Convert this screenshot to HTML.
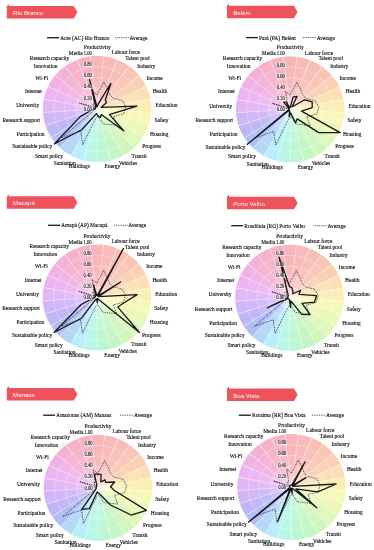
<!DOCTYPE html>
<html lang="en"><head><meta charset="utf-8"><title>Smart city radar charts</title>
<style>html,body{margin:0;padding:0;background:#fff}svg{display:block}.cat{font-family:"Liberation Serif",serif;font-size:54.5px;fill:#111;stroke:#111;stroke-width:1.3px}.tick{font-family:"Liberation Serif",serif;font-size:46.5px;fill:#222;stroke:#222;stroke-width:1.4px}.ban{font-family:"Liberation Sans",sans-serif;font-size:61px;fill:#fff}</style></head><body>
<svg width="374" height="550" viewBox="0 0 374 550">
<defs><filter id="soft" x="-5%" y="-5%" width="110%" height="110%"><feGaussianBlur stdDeviation="0.3"/></filter>
</defs>
<rect width="374" height="550" fill="#fff"/>
<g><!-- Rio Branco -->
<path d="M6.8 6.2L8.8 4.2V6.2Z" fill="#c8323f"/>
<path d="M6.8 6H73.8L77.4 12.25L73.8 18.5H6.8Z" fill="#ee525b"/>
<text class="ban" transform="translate(13.1 15) scale(.1)">Rio Branco</text>
<g filter="url(#soft)">
<g transform="translate(97.15 109.05) scale(1 0.9770)">
<path d="M0 0L-6.81 -53.92A54.35 54.35 0 0 1 6.81 -53.92Z" fill="#f8b5ba"/>
<path d="M0 0L-5.45 -43.14A43.48 43.48 0 0 1 5.45 -43.14Z" fill="#f8b6bb"/>
<path d="M0 0L-4.09 -32.35A32.61 32.61 0 0 1 4.09 -32.35Z" fill="#f8b9be"/>
<path d="M0 0L-2.72 -21.57A21.74 21.74 0 0 1 2.72 -21.57Z" fill="#f9c1c5"/>
<path d="M0 0L-1.36 -10.78A10.87 10.87 0 0 1 1.36 -10.78Z" fill="#fbd1d4"/>
<path d="M0 0L6.81 -53.92A54.35 54.35 0 0 1 20.01 -50.53Z" fill="#f9bab9"/>
<path d="M0 0L5.45 -43.14A43.48 43.48 0 0 1 16.01 -40.43Z" fill="#f9bbba"/>
<path d="M0 0L4.09 -32.35A32.61 32.61 0 0 1 12 -30.32Z" fill="#f9bebd"/>
<path d="M0 0L2.72 -21.57A21.74 21.74 0 0 1 8 -20.21Z" fill="#fac5c4"/>
<path d="M0 0L1.36 -10.78A10.87 10.87 0 0 1 4 -10.11Z" fill="#fbd4d4"/>
<path d="M0 0L20.01 -50.53A54.35 54.35 0 0 1 31.95 -43.97Z" fill="#f9bfb7"/>
<path d="M0 0L16.01 -40.43A43.48 43.48 0 0 1 25.56 -35.18Z" fill="#f9c0b8"/>
<path d="M0 0L12 -30.32A32.61 32.61 0 0 1 19.17 -26.38Z" fill="#f9c3bb"/>
<path d="M0 0L8 -20.21A21.74 21.74 0 0 1 12.78 -17.59Z" fill="#fac9c3"/>
<path d="M0 0L4 -10.11A10.87 10.87 0 0 1 6.39 -8.79Z" fill="#fbd7d2"/>
<path d="M0 0L31.95 -43.97A54.35 54.35 0 0 1 41.88 -34.64Z" fill="#f9c6b5"/>
<path d="M0 0L25.56 -35.18A43.48 43.48 0 0 1 33.5 -27.72Z" fill="#f9c7b6"/>
<path d="M0 0L19.17 -26.38A32.61 32.61 0 0 1 25.13 -20.79Z" fill="#f9c9b9"/>
<path d="M0 0L12.78 -17.59A21.74 21.74 0 0 1 16.75 -13.86Z" fill="#facfc1"/>
<path d="M0 0L6.39 -8.79A10.87 10.87 0 0 1 8.38 -6.93Z" fill="#fbdcd1"/>
<path d="M0 0L41.88 -34.64A54.35 54.35 0 0 1 49.18 -23.14Z" fill="#f9d0b4"/>
<path d="M0 0L33.5 -27.72A43.48 43.48 0 0 1 39.34 -18.51Z" fill="#f9d1b6"/>
<path d="M0 0L25.13 -20.79A32.61 32.61 0 0 1 29.51 -13.88Z" fill="#f9d3b8"/>
<path d="M0 0L16.75 -13.86A21.74 21.74 0 0 1 19.67 -9.26Z" fill="#fad8c0"/>
<path d="M0 0L8.38 -6.93A10.87 10.87 0 0 1 9.84 -4.63Z" fill="#fbe2d0"/>
<path d="M0 0L49.18 -23.14A54.35 54.35 0 0 1 53.39 -10.18Z" fill="#fae0b4"/>
<path d="M0 0L39.34 -18.51A43.48 43.48 0 0 1 42.71 -8.15Z" fill="#fae1b6"/>
<path d="M0 0L29.51 -13.88A32.61 32.61 0 0 1 32.03 -6.11Z" fill="#fae2b8"/>
<path d="M0 0L19.67 -9.26A21.74 21.74 0 0 1 21.35 -4.07Z" fill="#fbe5c0"/>
<path d="M0 0L9.84 -4.63A10.87 10.87 0 0 1 10.68 -2.04Z" fill="#fcecd0"/>
<path d="M0 0L53.39 -10.18A54.35 54.35 0 0 1 54.24 3.41Z" fill="#faeeb4"/>
<path d="M0 0L42.71 -8.15A43.48 43.48 0 0 1 43.39 2.73Z" fill="#faeeb6"/>
<path d="M0 0L32.03 -6.11A32.61 32.61 0 0 1 32.55 2.05Z" fill="#faefb8"/>
<path d="M0 0L21.35 -4.07A21.74 21.74 0 0 1 21.7 1.37Z" fill="#fbf1c0"/>
<path d="M0 0L10.68 -2.04A10.87 10.87 0 0 1 10.85 0.68Z" fill="#fcf4d0"/>
<path d="M0 0L54.24 3.41A54.35 54.35 0 0 1 51.69 16.8Z" fill="#f7f8b6"/>
<path d="M0 0L43.39 2.73A43.48 43.48 0 0 1 41.35 13.44Z" fill="#f7f8b7"/>
<path d="M0 0L32.55 2.05A32.61 32.61 0 0 1 31.01 10.08Z" fill="#f7f8ba"/>
<path d="M0 0L21.7 1.37A21.74 21.74 0 0 1 20.68 6.72Z" fill="#f8f9c2"/>
<path d="M0 0L10.85 0.68A10.87 10.87 0 0 1 10.34 3.36Z" fill="#fafbd2"/>
<path d="M0 0L51.69 16.8A54.35 54.35 0 0 1 45.89 29.12Z" fill="#ecf8b8"/>
<path d="M0 0L41.35 13.44A43.48 43.48 0 0 1 36.71 23.3Z" fill="#ecf8b9"/>
<path d="M0 0L31.01 10.08A32.61 32.61 0 0 1 27.53 17.47Z" fill="#edf8bc"/>
<path d="M0 0L20.68 6.72A21.74 21.74 0 0 1 18.36 11.65Z" fill="#eff9c3"/>
<path d="M0 0L10.34 3.36A10.87 10.87 0 0 1 9.18 5.82Z" fill="#f3fbd3"/>
<path d="M0 0L45.89 29.12A54.35 54.35 0 0 1 37.21 39.62Z" fill="#def7ba"/>
<path d="M0 0L36.71 23.3A43.48 43.48 0 0 1 29.76 31.7Z" fill="#dff7bb"/>
<path d="M0 0L27.53 17.47A32.61 32.61 0 0 1 22.32 23.77Z" fill="#e0f7be"/>
<path d="M0 0L18.36 11.65A21.74 21.74 0 0 1 14.88 15.85Z" fill="#e3f8c5"/>
<path d="M0 0L9.18 5.82A10.87 10.87 0 0 1 7.44 7.92Z" fill="#ebfad4"/>
<path d="M0 0L37.21 39.62A54.35 54.35 0 0 1 26.18 47.63Z" fill="#d0f6be"/>
<path d="M0 0L29.76 31.7A43.48 43.48 0 0 1 20.95 38.1Z" fill="#d1f6bf"/>
<path d="M0 0L22.32 23.77A32.61 32.61 0 0 1 15.71 28.58Z" fill="#d3f7c2"/>
<path d="M0 0L14.88 15.85A21.74 21.74 0 0 1 10.47 19.05Z" fill="#d8f7c8"/>
<path d="M0 0L7.44 7.92A10.87 10.87 0 0 1 5.24 9.53Z" fill="#e2f9d7"/>
<path d="M0 0L26.18 47.63A54.35 54.35 0 0 1 13.52 52.64Z" fill="#c3f6c4"/>
<path d="M0 0L20.95 38.1A43.48 43.48 0 0 1 10.81 42.11Z" fill="#c4f6c5"/>
<path d="M0 0L15.71 28.58A32.61 32.61 0 0 1 8.11 31.59Z" fill="#c7f7c8"/>
<path d="M0 0L10.47 19.05A21.74 21.74 0 0 1 5.41 21.06Z" fill="#cdf7cd"/>
<path d="M0 0L5.24 9.53A10.87 10.87 0 0 1 2.7 10.53Z" fill="#daf9da"/>
<path d="M0 0L13.52 52.64A54.35 54.35 0 0 1 0 54.35Z" fill="#bcf6d2"/>
<path d="M0 0L10.81 42.11A43.48 43.48 0 0 1 0 43.48Z" fill="#bdf6d3"/>
<path d="M0 0L8.11 31.59A32.61 32.61 0 0 1 0 32.61Z" fill="#c0f7d5"/>
<path d="M0 0L5.41 21.06A21.74 21.74 0 0 1 0 21.74Z" fill="#c7f7d9"/>
<path d="M0 0L2.7 10.53A10.87 10.87 0 0 1 0 10.87Z" fill="#d5f9e3"/>
<path d="M0 0L-0 54.35A54.35 54.35 0 0 1 -13.52 52.64Z" fill="#b9f6e6"/>
<path d="M0 0L-0 43.48A43.48 43.48 0 0 1 -10.81 42.11Z" fill="#baf6e6"/>
<path d="M0 0L-0 32.61A32.61 32.61 0 0 1 -8.11 31.59Z" fill="#bdf7e8"/>
<path d="M0 0L-0 21.74A21.74 21.74 0 0 1 -5.41 21.06Z" fill="#c4f7ea"/>
<path d="M0 0L-0 10.87A10.87 10.87 0 0 1 -2.7 10.53Z" fill="#d4f9f0"/>
<path d="M0 0L-13.52 52.64A54.35 54.35 0 0 1 -26.18 47.63Z" fill="#b7eef8"/>
<path d="M0 0L-10.81 42.11A43.48 43.48 0 0 1 -20.95 38.1Z" fill="#b8eef8"/>
<path d="M0 0L-8.11 31.59A32.61 32.61 0 0 1 -15.71 28.58Z" fill="#bbeff8"/>
<path d="M0 0L-5.41 21.06A21.74 21.74 0 0 1 -10.47 19.05Z" fill="#c3f1f9"/>
<path d="M0 0L-2.7 10.53A10.87 10.87 0 0 1 -5.24 9.53Z" fill="#d2f4fb"/>
<path d="M0 0L-26.18 47.63A54.35 54.35 0 0 1 -37.21 39.62Z" fill="#b4d7f8"/>
<path d="M0 0L-20.95 38.1A43.48 43.48 0 0 1 -29.76 31.7Z" fill="#b6d8f8"/>
<path d="M0 0L-15.71 28.58A32.61 32.61 0 0 1 -22.32 23.77Z" fill="#b8d9f8"/>
<path d="M0 0L-10.47 19.05A21.74 21.74 0 0 1 -14.88 15.85Z" fill="#c0ddf9"/>
<path d="M0 0L-5.24 9.53A10.87 10.87 0 0 1 -7.44 7.92Z" fill="#d0e6fb"/>
<path d="M0 0L-37.21 39.62A54.35 54.35 0 0 1 -45.89 29.12Z" fill="#b0bef7"/>
<path d="M0 0L-29.76 31.7A43.48 43.48 0 0 1 -36.71 23.3Z" fill="#b2bff7"/>
<path d="M0 0L-22.32 23.77A32.61 32.61 0 0 1 -27.53 17.47Z" fill="#b5c2f7"/>
<path d="M0 0L-14.88 15.85A21.74 21.74 0 0 1 -18.36 11.65Z" fill="#bdc8f8"/>
<path d="M0 0L-7.44 7.92A10.87 10.87 0 0 1 -9.18 5.82Z" fill="#ced7fa"/>
<path d="M0 0L-45.89 29.12A54.35 54.35 0 0 1 -51.69 16.8Z" fill="#bfb6f7"/>
<path d="M0 0L-36.71 23.3A43.48 43.48 0 0 1 -41.35 13.44Z" fill="#c0b7f7"/>
<path d="M0 0L-27.53 17.47A32.61 32.61 0 0 1 -31.01 10.08Z" fill="#c3baf7"/>
<path d="M0 0L-18.36 11.65A21.74 21.74 0 0 1 -20.68 6.72Z" fill="#c9c2f8"/>
<path d="M0 0L-9.18 5.82A10.87 10.87 0 0 1 -10.34 3.36Z" fill="#d7d2fa"/>
<path d="M0 0L-51.69 16.8A54.35 54.35 0 0 1 -54.24 3.41Z" fill="#d0b6f7"/>
<path d="M0 0L-41.35 13.44A43.48 43.48 0 0 1 -43.39 2.73Z" fill="#d1b7f7"/>
<path d="M0 0L-31.01 10.08A32.61 32.61 0 0 1 -32.55 2.05Z" fill="#d3baf7"/>
<path d="M0 0L-20.68 6.72A21.74 21.74 0 0 1 -21.7 1.37Z" fill="#d8c2f8"/>
<path d="M0 0L-10.34 3.36A10.87 10.87 0 0 1 -10.85 0.68Z" fill="#e2d2fa"/>
<path d="M0 0L-54.24 3.41A54.35 54.35 0 0 1 -53.39 -10.18Z" fill="#e1b6f6"/>
<path d="M0 0L-43.39 2.73A43.48 43.48 0 0 1 -42.71 -8.15Z" fill="#e2b7f6"/>
<path d="M0 0L-32.55 2.05A32.61 32.61 0 0 1 -32.03 -6.11Z" fill="#e3baf7"/>
<path d="M0 0L-21.7 1.37A21.74 21.74 0 0 1 -21.35 -4.07Z" fill="#e6c2f7"/>
<path d="M0 0L-10.85 0.68A10.87 10.87 0 0 1 -10.68 -2.04Z" fill="#ecd2f9"/>
<path d="M0 0L-53.39 -10.18A54.35 54.35 0 0 1 -49.18 -23.14Z" fill="#ecb4f2"/>
<path d="M0 0L-42.71 -8.15A43.48 43.48 0 0 1 -39.34 -18.51Z" fill="#ecb6f2"/>
<path d="M0 0L-32.03 -6.11A32.61 32.61 0 0 1 -29.51 -13.88Z" fill="#edb8f3"/>
<path d="M0 0L-21.35 -4.07A21.74 21.74 0 0 1 -19.67 -9.26Z" fill="#efc0f4"/>
<path d="M0 0L-10.68 -2.04A10.87 10.87 0 0 1 -9.84 -4.63Z" fill="#f3d0f7"/>
<path d="M0 0L-49.18 -23.14A54.35 54.35 0 0 1 -41.88 -34.64Z" fill="#f0b2e4"/>
<path d="M0 0L-39.34 -18.51A43.48 43.48 0 0 1 -33.5 -27.72Z" fill="#f0b4e5"/>
<path d="M0 0L-29.51 -13.88A32.61 32.61 0 0 1 -25.13 -20.79Z" fill="#f1b7e6"/>
<path d="M0 0L-19.67 -9.26A21.74 21.74 0 0 1 -16.75 -13.86Z" fill="#f2bee8"/>
<path d="M0 0L-9.84 -4.63A10.87 10.87 0 0 1 -8.38 -6.93Z" fill="#f6cfee"/>
<path d="M0 0L-41.88 -34.64A54.35 54.35 0 0 1 -31.95 -43.97Z" fill="#f3b2d4"/>
<path d="M0 0L-33.5 -27.72A43.48 43.48 0 0 1 -25.56 -35.18Z" fill="#f3b4d5"/>
<path d="M0 0L-25.13 -20.79A32.61 32.61 0 0 1 -19.17 -26.38Z" fill="#f4b7d7"/>
<path d="M0 0L-16.75 -13.86A21.74 21.74 0 0 1 -12.78 -17.59Z" fill="#f5bedb"/>
<path d="M0 0L-8.38 -6.93A10.87 10.87 0 0 1 -6.39 -8.79Z" fill="#f8cfe4"/>
<path d="M0 0L-31.95 -43.97A54.35 54.35 0 0 1 -20.01 -50.53Z" fill="#f5b2c8"/>
<path d="M0 0L-25.56 -35.18A43.48 43.48 0 0 1 -16.01 -40.43Z" fill="#f5b4c9"/>
<path d="M0 0L-19.17 -26.38A32.61 32.61 0 0 1 -12 -30.32Z" fill="#f6b7cb"/>
<path d="M0 0L-12.78 -17.59A21.74 21.74 0 0 1 -8 -20.21Z" fill="#f7bed1"/>
<path d="M0 0L-6.39 -8.79A10.87 10.87 0 0 1 -4 -10.11Z" fill="#f9cfdd"/>
<path d="M0 0L-20.01 -50.53A54.35 54.35 0 0 1 -6.81 -53.92Z" fill="#f6b2c0"/>
<path d="M0 0L-16.01 -40.43A43.48 43.48 0 0 1 -5.45 -43.14Z" fill="#f6b4c1"/>
<path d="M0 0L-12 -30.32A32.61 32.61 0 0 1 -4.09 -32.35Z" fill="#f7b7c4"/>
<path d="M0 0L-8 -20.21A21.74 21.74 0 0 1 -2.72 -21.57Z" fill="#f7beca"/>
<path d="M0 0L-4 -10.11A10.87 10.87 0 0 1 -1.36 -10.78Z" fill="#f9cfd8"/>
<line x1="0" y1="0" x2="6.81" y2="-53.92" stroke="#fff" stroke-width="0.5" stroke-opacity="0.85"/>
<line x1="0" y1="0" x2="20.01" y2="-50.53" stroke="#fff" stroke-width="0.5" stroke-opacity="0.85"/>
<line x1="0" y1="0" x2="31.95" y2="-43.97" stroke="#fff" stroke-width="0.5" stroke-opacity="0.85"/>
<line x1="0" y1="0" x2="41.88" y2="-34.64" stroke="#fff" stroke-width="0.5" stroke-opacity="0.85"/>
<line x1="0" y1="0" x2="49.18" y2="-23.14" stroke="#fff" stroke-width="0.5" stroke-opacity="0.85"/>
<line x1="0" y1="0" x2="53.39" y2="-10.18" stroke="#fff" stroke-width="0.5" stroke-opacity="0.85"/>
<line x1="0" y1="0" x2="54.24" y2="3.41" stroke="#fff" stroke-width="0.5" stroke-opacity="0.85"/>
<line x1="0" y1="0" x2="51.69" y2="16.8" stroke="#fff" stroke-width="0.5" stroke-opacity="0.85"/>
<line x1="0" y1="0" x2="45.89" y2="29.12" stroke="#fff" stroke-width="0.5" stroke-opacity="0.85"/>
<line x1="0" y1="0" x2="37.21" y2="39.62" stroke="#fff" stroke-width="0.5" stroke-opacity="0.85"/>
<line x1="0" y1="0" x2="26.18" y2="47.63" stroke="#fff" stroke-width="0.5" stroke-opacity="0.85"/>
<line x1="0" y1="0" x2="13.52" y2="52.64" stroke="#fff" stroke-width="0.5" stroke-opacity="0.85"/>
<line x1="0" y1="0" x2="0" y2="54.35" stroke="#fff" stroke-width="0.5" stroke-opacity="0.85"/>
<line x1="0" y1="0" x2="-13.52" y2="52.64" stroke="#fff" stroke-width="0.5" stroke-opacity="0.85"/>
<line x1="0" y1="0" x2="-26.18" y2="47.63" stroke="#fff" stroke-width="0.5" stroke-opacity="0.85"/>
<line x1="0" y1="0" x2="-37.21" y2="39.62" stroke="#fff" stroke-width="0.5" stroke-opacity="0.85"/>
<line x1="0" y1="0" x2="-45.89" y2="29.12" stroke="#fff" stroke-width="0.5" stroke-opacity="0.85"/>
<line x1="0" y1="0" x2="-51.69" y2="16.8" stroke="#fff" stroke-width="0.5" stroke-opacity="0.85"/>
<line x1="0" y1="0" x2="-54.24" y2="3.41" stroke="#fff" stroke-width="0.5" stroke-opacity="0.85"/>
<line x1="0" y1="0" x2="-53.39" y2="-10.18" stroke="#fff" stroke-width="0.5" stroke-opacity="0.85"/>
<line x1="0" y1="0" x2="-49.18" y2="-23.14" stroke="#fff" stroke-width="0.5" stroke-opacity="0.85"/>
<line x1="0" y1="0" x2="-41.88" y2="-34.64" stroke="#fff" stroke-width="0.5" stroke-opacity="0.85"/>
<line x1="0" y1="0" x2="-31.95" y2="-43.97" stroke="#fff" stroke-width="0.5" stroke-opacity="0.85"/>
<line x1="0" y1="0" x2="-20.01" y2="-50.53" stroke="#fff" stroke-width="0.5" stroke-opacity="0.85"/>
<line x1="0" y1="0" x2="-6.81" y2="-53.92" stroke="#fff" stroke-width="0.5" stroke-opacity="0.85"/>
<circle r="10.87" fill="none" stroke="#fff" stroke-width="0.5" stroke-opacity="0.6"/>
<circle r="21.74" fill="none" stroke="#fff" stroke-width="0.5" stroke-opacity="0.6"/>
<circle r="32.61" fill="none" stroke="#fff" stroke-width="0.5" stroke-opacity="0.6"/>
<circle r="43.48" fill="none" stroke="#fff" stroke-width="0.5" stroke-opacity="0.6"/>
<circle r="2.2" fill="#fff" fill-opacity="0.75"/>
</g>
<polygon points="97,94.85 103.89,81.87 107.68,89.28 109.89,94.97 113.37,98.31 122.29,100.48 125.75,106.89 123.67,113.79 113.54,116.48 117.06,125.3 108.4,124.39 102.91,123.64 97.97,116.39 95.82,118.04 82.72,144.76 80.72,131.11 62,137.66 94.49,109.88 95.37,109.01 94.79,108.56 79.09,102.88 95.13,107.51 92.45,103.85 94.33,103.85 92.45,90.99" fill="none" stroke="#111" stroke-width="0.8" stroke-dasharray="0.9 0.9" stroke-linejoin="round"/>
<polygon points="97,107.04 98.24,103.87 110.88,83.46 105.34,99.82 106.36,102.76 101.22,107.33 136.81,106.2 116.59,112.44 109.53,114.6 123.89,130.95 101.23,114.53 100.47,117.46 97.9,115.85 96.38,113.65 93.94,116.43 81.7,129.77 54.31,144.01 80.21,116.6 92.65,109.53 95.34,108.6 95.42,108.19 95.6,107.81 95.1,106.68 95.67,106.27 89.56,79.72" fill="none" stroke="#161616" stroke-width="1.3" stroke-linejoin="round"/>
</g>
<rect x="83.1" y="106.8" width="9.5" height="4.6" fill="#fff" fill-opacity="0.72"/>
<text class="tick" transform="translate(91.9 110.7) scale(.1 .112)" text-anchor="end">0.00</text>
<rect x="83.1" y="95.68" width="9.5" height="4.6" fill="#fff" fill-opacity="0.72"/>
<text class="tick" transform="translate(91.9 99.58) scale(.1 .112)" text-anchor="end">0.20</text>
<rect x="83.1" y="84.55" width="9.5" height="4.6" fill="#fff" fill-opacity="0.72"/>
<text class="tick" transform="translate(91.9 88.45) scale(.1 .112)" text-anchor="end">0.40</text>
<rect x="83.1" y="73.43" width="9.5" height="4.6" fill="#fff" fill-opacity="0.72"/>
<text class="tick" transform="translate(91.9 77.33) scale(.1 .112)" text-anchor="end">0.60</text>
<rect x="83.1" y="62.3" width="9.5" height="4.6" fill="#fff" fill-opacity="0.72"/>
<text class="tick" transform="translate(91.9 66.2) scale(.1 .112)" text-anchor="end">0.80</text>
<rect x="83.1" y="51.18" width="9.5" height="4.6" fill="#fff" fill-opacity="0.72"/>
<text class="tick" transform="translate(91.9 55.08) scale(.1 .112)" text-anchor="end">1.00</text>
<text class="cat" transform="translate(97.2 49.05) scale(.1)" text-anchor="middle">Productivity</text>
<text class="cat" transform="translate(111.77 54.28) scale(.1)">Labour force</text>
<text class="cat" transform="translate(125.34 60.05) scale(.1)">Talent pool</text>
<text class="cat" transform="translate(137.14 67.92) scale(.1)">Industry</text>
<text class="cat" transform="translate(146.44 79.86) scale(.1)">Income</text>
<text class="cat" transform="translate(152.65 93.07) scale(.1)">Health</text>
<text class="cat" transform="translate(155.39 107.4) scale(.1)">Education</text>
<text class="cat" transform="translate(154.47 121.96) scale(.1)">Safety</text>
<text class="cat" transform="translate(149.96 135.83) scale(.1)">Housing</text>
<text class="cat" transform="translate(142.14 148.15) scale(.1)">Progress</text>
<text class="cat" transform="translate(131.51 157.93) scale(.1)">Transit</text>
<text class="cat" transform="translate(118.72 164.86) scale(.1)">Vehicles</text>
<text class="cat" transform="translate(104.59 168.34) scale(.1)">Energy</text>
<text class="cat" transform="translate(89.91 168.39) scale(.1)" text-anchor="end">Buildings</text>
<text class="cat" transform="translate(75.78 165.21) scale(.1)" text-anchor="end">Sanitation</text>
<text class="cat" transform="translate(62.99 158.18) scale(.1)" text-anchor="end">Smart policy</text>
<text class="cat" transform="translate(52.36 148.2) scale(.1)" text-anchor="end">Sustainable policy</text>
<text class="cat" transform="translate(44.54 135.88) scale(.1)" text-anchor="end">Participation</text>
<text class="cat" transform="translate(40.03 122.01) scale(.1)" text-anchor="end">Research support</text>
<text class="cat" transform="translate(39.11 107.45) scale(.1)" text-anchor="end">University</text>
<text class="cat" transform="translate(41.85 93.12) scale(.1)" text-anchor="end">Internet</text>
<text class="cat" transform="translate(48.06 79.91) scale(.1)" text-anchor="end">Wi-Fi</text>
<text class="cat" transform="translate(57.36 67.97) scale(.1)" text-anchor="end">Innovation</text>
<text class="cat" transform="translate(69.16 59.9) scale(.1)" text-anchor="end">Research capacity</text>
<text class="cat" transform="translate(82.73 55.08) scale(.1)" text-anchor="end">Media</text>
<line x1="47.1" y1="37.7" x2="59.1" y2="37.7" stroke="#161616" stroke-width="1.3"/>
<text class="cat" transform="translate(60.2 39.6) scale(.1)">Acre (AC) Rio Branco</text>
<line x1="115.4" y1="37.7" x2="128.7" y2="37.7" stroke="#111" stroke-width="0.8" stroke-dasharray="0.9 0.9"/>
<text class="cat" transform="translate(129.4 39.6) scale(.1)">Average</text>
</g>
<g><!-- Belém -->
<path d="M226.9 5.9L228.9 3.9V5.9Z" fill="#c8323f"/>
<path d="M226.9 5.7H293.9L297.5 11.95L293.9 18.2H226.9Z" fill="#ee525b"/>
<text class="ban" transform="translate(233.2 14.7) scale(.1)">Belém</text>
<g filter="url(#soft)">
<g transform="translate(290.2 109.35) scale(1 0.9770)">
<path d="M0 0L-6.81 -53.92A54.35 54.35 0 0 1 6.81 -53.92Z" fill="#f8b5ba"/>
<path d="M0 0L-5.45 -43.14A43.48 43.48 0 0 1 5.45 -43.14Z" fill="#f8b6bb"/>
<path d="M0 0L-4.09 -32.35A32.61 32.61 0 0 1 4.09 -32.35Z" fill="#f8b9be"/>
<path d="M0 0L-2.72 -21.57A21.74 21.74 0 0 1 2.72 -21.57Z" fill="#f9c1c5"/>
<path d="M0 0L-1.36 -10.78A10.87 10.87 0 0 1 1.36 -10.78Z" fill="#fbd1d4"/>
<path d="M0 0L6.81 -53.92A54.35 54.35 0 0 1 20.01 -50.53Z" fill="#f9bab9"/>
<path d="M0 0L5.45 -43.14A43.48 43.48 0 0 1 16.01 -40.43Z" fill="#f9bbba"/>
<path d="M0 0L4.09 -32.35A32.61 32.61 0 0 1 12 -30.32Z" fill="#f9bebd"/>
<path d="M0 0L2.72 -21.57A21.74 21.74 0 0 1 8 -20.21Z" fill="#fac5c4"/>
<path d="M0 0L1.36 -10.78A10.87 10.87 0 0 1 4 -10.11Z" fill="#fbd4d4"/>
<path d="M0 0L20.01 -50.53A54.35 54.35 0 0 1 31.95 -43.97Z" fill="#f9bfb7"/>
<path d="M0 0L16.01 -40.43A43.48 43.48 0 0 1 25.56 -35.18Z" fill="#f9c0b8"/>
<path d="M0 0L12 -30.32A32.61 32.61 0 0 1 19.17 -26.38Z" fill="#f9c3bb"/>
<path d="M0 0L8 -20.21A21.74 21.74 0 0 1 12.78 -17.59Z" fill="#fac9c3"/>
<path d="M0 0L4 -10.11A10.87 10.87 0 0 1 6.39 -8.79Z" fill="#fbd7d2"/>
<path d="M0 0L31.95 -43.97A54.35 54.35 0 0 1 41.88 -34.64Z" fill="#f9c6b5"/>
<path d="M0 0L25.56 -35.18A43.48 43.48 0 0 1 33.5 -27.72Z" fill="#f9c7b6"/>
<path d="M0 0L19.17 -26.38A32.61 32.61 0 0 1 25.13 -20.79Z" fill="#f9c9b9"/>
<path d="M0 0L12.78 -17.59A21.74 21.74 0 0 1 16.75 -13.86Z" fill="#facfc1"/>
<path d="M0 0L6.39 -8.79A10.87 10.87 0 0 1 8.38 -6.93Z" fill="#fbdcd1"/>
<path d="M0 0L41.88 -34.64A54.35 54.35 0 0 1 49.18 -23.14Z" fill="#f9d0b4"/>
<path d="M0 0L33.5 -27.72A43.48 43.48 0 0 1 39.34 -18.51Z" fill="#f9d1b6"/>
<path d="M0 0L25.13 -20.79A32.61 32.61 0 0 1 29.51 -13.88Z" fill="#f9d3b8"/>
<path d="M0 0L16.75 -13.86A21.74 21.74 0 0 1 19.67 -9.26Z" fill="#fad8c0"/>
<path d="M0 0L8.38 -6.93A10.87 10.87 0 0 1 9.84 -4.63Z" fill="#fbe2d0"/>
<path d="M0 0L49.18 -23.14A54.35 54.35 0 0 1 53.39 -10.18Z" fill="#fae0b4"/>
<path d="M0 0L39.34 -18.51A43.48 43.48 0 0 1 42.71 -8.15Z" fill="#fae1b6"/>
<path d="M0 0L29.51 -13.88A32.61 32.61 0 0 1 32.03 -6.11Z" fill="#fae2b8"/>
<path d="M0 0L19.67 -9.26A21.74 21.74 0 0 1 21.35 -4.07Z" fill="#fbe5c0"/>
<path d="M0 0L9.84 -4.63A10.87 10.87 0 0 1 10.68 -2.04Z" fill="#fcecd0"/>
<path d="M0 0L53.39 -10.18A54.35 54.35 0 0 1 54.24 3.41Z" fill="#faeeb4"/>
<path d="M0 0L42.71 -8.15A43.48 43.48 0 0 1 43.39 2.73Z" fill="#faeeb6"/>
<path d="M0 0L32.03 -6.11A32.61 32.61 0 0 1 32.55 2.05Z" fill="#faefb8"/>
<path d="M0 0L21.35 -4.07A21.74 21.74 0 0 1 21.7 1.37Z" fill="#fbf1c0"/>
<path d="M0 0L10.68 -2.04A10.87 10.87 0 0 1 10.85 0.68Z" fill="#fcf4d0"/>
<path d="M0 0L54.24 3.41A54.35 54.35 0 0 1 51.69 16.8Z" fill="#f7f8b6"/>
<path d="M0 0L43.39 2.73A43.48 43.48 0 0 1 41.35 13.44Z" fill="#f7f8b7"/>
<path d="M0 0L32.55 2.05A32.61 32.61 0 0 1 31.01 10.08Z" fill="#f7f8ba"/>
<path d="M0 0L21.7 1.37A21.74 21.74 0 0 1 20.68 6.72Z" fill="#f8f9c2"/>
<path d="M0 0L10.85 0.68A10.87 10.87 0 0 1 10.34 3.36Z" fill="#fafbd2"/>
<path d="M0 0L51.69 16.8A54.35 54.35 0 0 1 45.89 29.12Z" fill="#ecf8b8"/>
<path d="M0 0L41.35 13.44A43.48 43.48 0 0 1 36.71 23.3Z" fill="#ecf8b9"/>
<path d="M0 0L31.01 10.08A32.61 32.61 0 0 1 27.53 17.47Z" fill="#edf8bc"/>
<path d="M0 0L20.68 6.72A21.74 21.74 0 0 1 18.36 11.65Z" fill="#eff9c3"/>
<path d="M0 0L10.34 3.36A10.87 10.87 0 0 1 9.18 5.82Z" fill="#f3fbd3"/>
<path d="M0 0L45.89 29.12A54.35 54.35 0 0 1 37.21 39.62Z" fill="#def7ba"/>
<path d="M0 0L36.71 23.3A43.48 43.48 0 0 1 29.76 31.7Z" fill="#dff7bb"/>
<path d="M0 0L27.53 17.47A32.61 32.61 0 0 1 22.32 23.77Z" fill="#e0f7be"/>
<path d="M0 0L18.36 11.65A21.74 21.74 0 0 1 14.88 15.85Z" fill="#e3f8c5"/>
<path d="M0 0L9.18 5.82A10.87 10.87 0 0 1 7.44 7.92Z" fill="#ebfad4"/>
<path d="M0 0L37.21 39.62A54.35 54.35 0 0 1 26.18 47.63Z" fill="#d0f6be"/>
<path d="M0 0L29.76 31.7A43.48 43.48 0 0 1 20.95 38.1Z" fill="#d1f6bf"/>
<path d="M0 0L22.32 23.77A32.61 32.61 0 0 1 15.71 28.58Z" fill="#d3f7c2"/>
<path d="M0 0L14.88 15.85A21.74 21.74 0 0 1 10.47 19.05Z" fill="#d8f7c8"/>
<path d="M0 0L7.44 7.92A10.87 10.87 0 0 1 5.24 9.53Z" fill="#e2f9d7"/>
<path d="M0 0L26.18 47.63A54.35 54.35 0 0 1 13.52 52.64Z" fill="#c3f6c4"/>
<path d="M0 0L20.95 38.1A43.48 43.48 0 0 1 10.81 42.11Z" fill="#c4f6c5"/>
<path d="M0 0L15.71 28.58A32.61 32.61 0 0 1 8.11 31.59Z" fill="#c7f7c8"/>
<path d="M0 0L10.47 19.05A21.74 21.74 0 0 1 5.41 21.06Z" fill="#cdf7cd"/>
<path d="M0 0L5.24 9.53A10.87 10.87 0 0 1 2.7 10.53Z" fill="#daf9da"/>
<path d="M0 0L13.52 52.64A54.35 54.35 0 0 1 0 54.35Z" fill="#bcf6d2"/>
<path d="M0 0L10.81 42.11A43.48 43.48 0 0 1 0 43.48Z" fill="#bdf6d3"/>
<path d="M0 0L8.11 31.59A32.61 32.61 0 0 1 0 32.61Z" fill="#c0f7d5"/>
<path d="M0 0L5.41 21.06A21.74 21.74 0 0 1 0 21.74Z" fill="#c7f7d9"/>
<path d="M0 0L2.7 10.53A10.87 10.87 0 0 1 0 10.87Z" fill="#d5f9e3"/>
<path d="M0 0L-0 54.35A54.35 54.35 0 0 1 -13.52 52.64Z" fill="#b9f6e6"/>
<path d="M0 0L-0 43.48A43.48 43.48 0 0 1 -10.81 42.11Z" fill="#baf6e6"/>
<path d="M0 0L-0 32.61A32.61 32.61 0 0 1 -8.11 31.59Z" fill="#bdf7e8"/>
<path d="M0 0L-0 21.74A21.74 21.74 0 0 1 -5.41 21.06Z" fill="#c4f7ea"/>
<path d="M0 0L-0 10.87A10.87 10.87 0 0 1 -2.7 10.53Z" fill="#d4f9f0"/>
<path d="M0 0L-13.52 52.64A54.35 54.35 0 0 1 -26.18 47.63Z" fill="#b7eef8"/>
<path d="M0 0L-10.81 42.11A43.48 43.48 0 0 1 -20.95 38.1Z" fill="#b8eef8"/>
<path d="M0 0L-8.11 31.59A32.61 32.61 0 0 1 -15.71 28.58Z" fill="#bbeff8"/>
<path d="M0 0L-5.41 21.06A21.74 21.74 0 0 1 -10.47 19.05Z" fill="#c3f1f9"/>
<path d="M0 0L-2.7 10.53A10.87 10.87 0 0 1 -5.24 9.53Z" fill="#d2f4fb"/>
<path d="M0 0L-26.18 47.63A54.35 54.35 0 0 1 -37.21 39.62Z" fill="#b4d7f8"/>
<path d="M0 0L-20.95 38.1A43.48 43.48 0 0 1 -29.76 31.7Z" fill="#b6d8f8"/>
<path d="M0 0L-15.71 28.58A32.61 32.61 0 0 1 -22.32 23.77Z" fill="#b8d9f8"/>
<path d="M0 0L-10.47 19.05A21.74 21.74 0 0 1 -14.88 15.85Z" fill="#c0ddf9"/>
<path d="M0 0L-5.24 9.53A10.87 10.87 0 0 1 -7.44 7.92Z" fill="#d0e6fb"/>
<path d="M0 0L-37.21 39.62A54.35 54.35 0 0 1 -45.89 29.12Z" fill="#b0bef7"/>
<path d="M0 0L-29.76 31.7A43.48 43.48 0 0 1 -36.71 23.3Z" fill="#b2bff7"/>
<path d="M0 0L-22.32 23.77A32.61 32.61 0 0 1 -27.53 17.47Z" fill="#b5c2f7"/>
<path d="M0 0L-14.88 15.85A21.74 21.74 0 0 1 -18.36 11.65Z" fill="#bdc8f8"/>
<path d="M0 0L-7.44 7.92A10.87 10.87 0 0 1 -9.18 5.82Z" fill="#ced7fa"/>
<path d="M0 0L-45.89 29.12A54.35 54.35 0 0 1 -51.69 16.8Z" fill="#bfb6f7"/>
<path d="M0 0L-36.71 23.3A43.48 43.48 0 0 1 -41.35 13.44Z" fill="#c0b7f7"/>
<path d="M0 0L-27.53 17.47A32.61 32.61 0 0 1 -31.01 10.08Z" fill="#c3baf7"/>
<path d="M0 0L-18.36 11.65A21.74 21.74 0 0 1 -20.68 6.72Z" fill="#c9c2f8"/>
<path d="M0 0L-9.18 5.82A10.87 10.87 0 0 1 -10.34 3.36Z" fill="#d7d2fa"/>
<path d="M0 0L-51.69 16.8A54.35 54.35 0 0 1 -54.24 3.41Z" fill="#d0b6f7"/>
<path d="M0 0L-41.35 13.44A43.48 43.48 0 0 1 -43.39 2.73Z" fill="#d1b7f7"/>
<path d="M0 0L-31.01 10.08A32.61 32.61 0 0 1 -32.55 2.05Z" fill="#d3baf7"/>
<path d="M0 0L-20.68 6.72A21.74 21.74 0 0 1 -21.7 1.37Z" fill="#d8c2f8"/>
<path d="M0 0L-10.34 3.36A10.87 10.87 0 0 1 -10.85 0.68Z" fill="#e2d2fa"/>
<path d="M0 0L-54.24 3.41A54.35 54.35 0 0 1 -53.39 -10.18Z" fill="#e1b6f6"/>
<path d="M0 0L-43.39 2.73A43.48 43.48 0 0 1 -42.71 -8.15Z" fill="#e2b7f6"/>
<path d="M0 0L-32.55 2.05A32.61 32.61 0 0 1 -32.03 -6.11Z" fill="#e3baf7"/>
<path d="M0 0L-21.7 1.37A21.74 21.74 0 0 1 -21.35 -4.07Z" fill="#e6c2f7"/>
<path d="M0 0L-10.85 0.68A10.87 10.87 0 0 1 -10.68 -2.04Z" fill="#ecd2f9"/>
<path d="M0 0L-53.39 -10.18A54.35 54.35 0 0 1 -49.18 -23.14Z" fill="#ecb4f2"/>
<path d="M0 0L-42.71 -8.15A43.48 43.48 0 0 1 -39.34 -18.51Z" fill="#ecb6f2"/>
<path d="M0 0L-32.03 -6.11A32.61 32.61 0 0 1 -29.51 -13.88Z" fill="#edb8f3"/>
<path d="M0 0L-21.35 -4.07A21.74 21.74 0 0 1 -19.67 -9.26Z" fill="#efc0f4"/>
<path d="M0 0L-10.68 -2.04A10.87 10.87 0 0 1 -9.84 -4.63Z" fill="#f3d0f7"/>
<path d="M0 0L-49.18 -23.14A54.35 54.35 0 0 1 -41.88 -34.64Z" fill="#f0b2e4"/>
<path d="M0 0L-39.34 -18.51A43.48 43.48 0 0 1 -33.5 -27.72Z" fill="#f0b4e5"/>
<path d="M0 0L-29.51 -13.88A32.61 32.61 0 0 1 -25.13 -20.79Z" fill="#f1b7e6"/>
<path d="M0 0L-19.67 -9.26A21.74 21.74 0 0 1 -16.75 -13.86Z" fill="#f2bee8"/>
<path d="M0 0L-9.84 -4.63A10.87 10.87 0 0 1 -8.38 -6.93Z" fill="#f6cfee"/>
<path d="M0 0L-41.88 -34.64A54.35 54.35 0 0 1 -31.95 -43.97Z" fill="#f3b2d4"/>
<path d="M0 0L-33.5 -27.72A43.48 43.48 0 0 1 -25.56 -35.18Z" fill="#f3b4d5"/>
<path d="M0 0L-25.13 -20.79A32.61 32.61 0 0 1 -19.17 -26.38Z" fill="#f4b7d7"/>
<path d="M0 0L-16.75 -13.86A21.74 21.74 0 0 1 -12.78 -17.59Z" fill="#f5bedb"/>
<path d="M0 0L-8.38 -6.93A10.87 10.87 0 0 1 -6.39 -8.79Z" fill="#f8cfe4"/>
<path d="M0 0L-31.95 -43.97A54.35 54.35 0 0 1 -20.01 -50.53Z" fill="#f5b2c8"/>
<path d="M0 0L-25.56 -35.18A43.48 43.48 0 0 1 -16.01 -40.43Z" fill="#f5b4c9"/>
<path d="M0 0L-19.17 -26.38A32.61 32.61 0 0 1 -12 -30.32Z" fill="#f6b7cb"/>
<path d="M0 0L-12.78 -17.59A21.74 21.74 0 0 1 -8 -20.21Z" fill="#f7bed1"/>
<path d="M0 0L-6.39 -8.79A10.87 10.87 0 0 1 -4 -10.11Z" fill="#f9cfdd"/>
<path d="M0 0L-20.01 -50.53A54.35 54.35 0 0 1 -6.81 -53.92Z" fill="#f6b2c0"/>
<path d="M0 0L-16.01 -40.43A43.48 43.48 0 0 1 -5.45 -43.14Z" fill="#f6b4c1"/>
<path d="M0 0L-12 -30.32A32.61 32.61 0 0 1 -4.09 -32.35Z" fill="#f7b7c4"/>
<path d="M0 0L-8 -20.21A21.74 21.74 0 0 1 -2.72 -21.57Z" fill="#f7beca"/>
<path d="M0 0L-4 -10.11A10.87 10.87 0 0 1 -1.36 -10.78Z" fill="#f9cfd8"/>
<line x1="0" y1="0" x2="6.81" y2="-53.92" stroke="#fff" stroke-width="0.5" stroke-opacity="0.85"/>
<line x1="0" y1="0" x2="20.01" y2="-50.53" stroke="#fff" stroke-width="0.5" stroke-opacity="0.85"/>
<line x1="0" y1="0" x2="31.95" y2="-43.97" stroke="#fff" stroke-width="0.5" stroke-opacity="0.85"/>
<line x1="0" y1="0" x2="41.88" y2="-34.64" stroke="#fff" stroke-width="0.5" stroke-opacity="0.85"/>
<line x1="0" y1="0" x2="49.18" y2="-23.14" stroke="#fff" stroke-width="0.5" stroke-opacity="0.85"/>
<line x1="0" y1="0" x2="53.39" y2="-10.18" stroke="#fff" stroke-width="0.5" stroke-opacity="0.85"/>
<line x1="0" y1="0" x2="54.24" y2="3.41" stroke="#fff" stroke-width="0.5" stroke-opacity="0.85"/>
<line x1="0" y1="0" x2="51.69" y2="16.8" stroke="#fff" stroke-width="0.5" stroke-opacity="0.85"/>
<line x1="0" y1="0" x2="45.89" y2="29.12" stroke="#fff" stroke-width="0.5" stroke-opacity="0.85"/>
<line x1="0" y1="0" x2="37.21" y2="39.62" stroke="#fff" stroke-width="0.5" stroke-opacity="0.85"/>
<line x1="0" y1="0" x2="26.18" y2="47.63" stroke="#fff" stroke-width="0.5" stroke-opacity="0.85"/>
<line x1="0" y1="0" x2="13.52" y2="52.64" stroke="#fff" stroke-width="0.5" stroke-opacity="0.85"/>
<line x1="0" y1="0" x2="0" y2="54.35" stroke="#fff" stroke-width="0.5" stroke-opacity="0.85"/>
<line x1="0" y1="0" x2="-13.52" y2="52.64" stroke="#fff" stroke-width="0.5" stroke-opacity="0.85"/>
<line x1="0" y1="0" x2="-26.18" y2="47.63" stroke="#fff" stroke-width="0.5" stroke-opacity="0.85"/>
<line x1="0" y1="0" x2="-37.21" y2="39.62" stroke="#fff" stroke-width="0.5" stroke-opacity="0.85"/>
<line x1="0" y1="0" x2="-45.89" y2="29.12" stroke="#fff" stroke-width="0.5" stroke-opacity="0.85"/>
<line x1="0" y1="0" x2="-51.69" y2="16.8" stroke="#fff" stroke-width="0.5" stroke-opacity="0.85"/>
<line x1="0" y1="0" x2="-54.24" y2="3.41" stroke="#fff" stroke-width="0.5" stroke-opacity="0.85"/>
<line x1="0" y1="0" x2="-53.39" y2="-10.18" stroke="#fff" stroke-width="0.5" stroke-opacity="0.85"/>
<line x1="0" y1="0" x2="-49.18" y2="-23.14" stroke="#fff" stroke-width="0.5" stroke-opacity="0.85"/>
<line x1="0" y1="0" x2="-41.88" y2="-34.64" stroke="#fff" stroke-width="0.5" stroke-opacity="0.85"/>
<line x1="0" y1="0" x2="-31.95" y2="-43.97" stroke="#fff" stroke-width="0.5" stroke-opacity="0.85"/>
<line x1="0" y1="0" x2="-20.01" y2="-50.53" stroke="#fff" stroke-width="0.5" stroke-opacity="0.85"/>
<line x1="0" y1="0" x2="-6.81" y2="-53.92" stroke="#fff" stroke-width="0.5" stroke-opacity="0.85"/>
<circle r="10.87" fill="none" stroke="#fff" stroke-width="0.5" stroke-opacity="0.6"/>
<circle r="21.74" fill="none" stroke="#fff" stroke-width="0.5" stroke-opacity="0.6"/>
<circle r="32.61" fill="none" stroke="#fff" stroke-width="0.5" stroke-opacity="0.6"/>
<circle r="43.48" fill="none" stroke="#fff" stroke-width="0.5" stroke-opacity="0.6"/>
<circle r="2.2" fill="#fff" fill-opacity="0.75"/>
</g>
<polygon points="290.05,95.15 296.94,82.17 300.73,89.58 302.94,95.27 306.42,98.61 315.34,100.78 318.8,107.19 316.72,114.09 306.59,116.78 310.11,125.6 301.45,124.69 295.96,123.94 291.02,116.69 288.87,118.34 275.77,145.06 273.77,131.41 255.05,137.96 287.54,110.18 288.42,109.31 287.84,108.86 272.14,103.18 288.18,107.81 285.5,104.15 287.38,104.15 285.5,91.29" fill="none" stroke="#111" stroke-width="0.8" stroke-dasharray="0.9 0.9" stroke-linejoin="round"/>
<polygon points="290.05,107.89 293.08,97.19 296.99,96.38 291.95,106.98 304.55,99.8 312.18,101.81 312.17,107.61 301.48,111.18 340.18,132.59 318.65,132.66 297.21,118.86 295.56,122.91 290.54,112.85 289.08,116.69 289.64,110.03 289.4,109.9 247.36,144.31 289.05,109.47 288.96,109.21 288.94,108.93 288.47,108.49 289.11,108.41 283.6,102.13 286.31,102.2 289.77,107.93" fill="none" stroke="#161616" stroke-width="1.3" stroke-linejoin="round"/>
</g>
<rect x="276.15" y="107.1" width="9.5" height="4.6" fill="#fff" fill-opacity="0.72"/>
<text class="tick" transform="translate(284.95 111) scale(.1 .112)" text-anchor="end">0.00</text>
<rect x="276.15" y="95.98" width="9.5" height="4.6" fill="#fff" fill-opacity="0.72"/>
<text class="tick" transform="translate(284.95 99.88) scale(.1 .112)" text-anchor="end">0.20</text>
<rect x="276.15" y="84.85" width="9.5" height="4.6" fill="#fff" fill-opacity="0.72"/>
<text class="tick" transform="translate(284.95 88.75) scale(.1 .112)" text-anchor="end">0.40</text>
<rect x="276.15" y="73.73" width="9.5" height="4.6" fill="#fff" fill-opacity="0.72"/>
<text class="tick" transform="translate(284.95 77.63) scale(.1 .112)" text-anchor="end">0.60</text>
<rect x="276.15" y="62.6" width="9.5" height="4.6" fill="#fff" fill-opacity="0.72"/>
<text class="tick" transform="translate(284.95 66.5) scale(.1 .112)" text-anchor="end">0.80</text>
<rect x="276.15" y="51.48" width="9.5" height="4.6" fill="#fff" fill-opacity="0.72"/>
<text class="tick" transform="translate(284.95 55.38) scale(.1 .112)" text-anchor="end">1.00</text>
<text class="cat" transform="translate(290.25 49.35) scale(.1)" text-anchor="middle">Productivity</text>
<text class="cat" transform="translate(304.82 54.58) scale(.1)">Labour force</text>
<text class="cat" transform="translate(318.39 60.35) scale(.1)">Talent pool</text>
<text class="cat" transform="translate(330.19 68.22) scale(.1)">Industry</text>
<text class="cat" transform="translate(339.49 80.16) scale(.1)">Income</text>
<text class="cat" transform="translate(345.7 93.37) scale(.1)">Health</text>
<text class="cat" transform="translate(348.44 107.7) scale(.1)">Education</text>
<text class="cat" transform="translate(347.52 122.26) scale(.1)">Safety</text>
<text class="cat" transform="translate(343.01 136.13) scale(.1)">Housing</text>
<text class="cat" transform="translate(335.19 148.45) scale(.1)">Progress</text>
<text class="cat" transform="translate(324.56 158.23) scale(.1)">Transit</text>
<text class="cat" transform="translate(311.77 165.16) scale(.1)">Vehicles</text>
<text class="cat" transform="translate(297.64 168.64) scale(.1)">Energy</text>
<text class="cat" transform="translate(282.96 168.69) scale(.1)" text-anchor="end">Buildings</text>
<text class="cat" transform="translate(268.83 165.51) scale(.1)" text-anchor="end">Sanitation</text>
<text class="cat" transform="translate(256.04 158.48) scale(.1)" text-anchor="end">Smart policy</text>
<text class="cat" transform="translate(245.41 148.5) scale(.1)" text-anchor="end">Sustainable policy</text>
<text class="cat" transform="translate(237.59 136.18) scale(.1)" text-anchor="end">Participation</text>
<text class="cat" transform="translate(233.08 122.31) scale(.1)" text-anchor="end">Research support</text>
<text class="cat" transform="translate(232.16 107.75) scale(.1)" text-anchor="end">University</text>
<text class="cat" transform="translate(234.9 93.42) scale(.1)" text-anchor="end">Internet</text>
<text class="cat" transform="translate(241.11 80.21) scale(.1)" text-anchor="end">Wi-Fi</text>
<text class="cat" transform="translate(250.41 68.27) scale(.1)" text-anchor="end">Innovation</text>
<text class="cat" transform="translate(262.21 60.2) scale(.1)" text-anchor="end">Research capacity</text>
<text class="cat" transform="translate(275.78 55.38) scale(.1)" text-anchor="end">Media</text>
<line x1="245.9" y1="37.6" x2="257.9" y2="37.6" stroke="#161616" stroke-width="1.3"/>
<text class="cat" transform="translate(259 39.5) scale(.1)">Pará (PA) Belém</text>
<line x1="302.8" y1="37.6" x2="316.1" y2="37.6" stroke="#111" stroke-width="0.8" stroke-dasharray="0.9 0.9"/>
<text class="cat" transform="translate(316.8 39.5) scale(.1)">Average</text>
</g>
<g><!-- Macapá -->
<path d="M6.8 196.5L8.8 194.5V196.5Z" fill="#c8323f"/>
<path d="M6.8 196.3H73.8L77.4 202.55L73.8 208.8H6.8Z" fill="#ee525b"/>
<text class="ban" transform="translate(13.1 205.3) scale(.1)">Macapá</text>
<g filter="url(#soft)">
<g transform="translate(96.9 297.5) scale(1 0.9770)">
<path d="M0 0L-6.81 -53.92A54.35 54.35 0 0 1 6.81 -53.92Z" fill="#f8b5ba"/>
<path d="M0 0L-5.45 -43.14A43.48 43.48 0 0 1 5.45 -43.14Z" fill="#f8b6bb"/>
<path d="M0 0L-4.09 -32.35A32.61 32.61 0 0 1 4.09 -32.35Z" fill="#f8b9be"/>
<path d="M0 0L-2.72 -21.57A21.74 21.74 0 0 1 2.72 -21.57Z" fill="#f9c1c5"/>
<path d="M0 0L-1.36 -10.78A10.87 10.87 0 0 1 1.36 -10.78Z" fill="#fbd1d4"/>
<path d="M0 0L6.81 -53.92A54.35 54.35 0 0 1 20.01 -50.53Z" fill="#f9bab9"/>
<path d="M0 0L5.45 -43.14A43.48 43.48 0 0 1 16.01 -40.43Z" fill="#f9bbba"/>
<path d="M0 0L4.09 -32.35A32.61 32.61 0 0 1 12 -30.32Z" fill="#f9bebd"/>
<path d="M0 0L2.72 -21.57A21.74 21.74 0 0 1 8 -20.21Z" fill="#fac5c4"/>
<path d="M0 0L1.36 -10.78A10.87 10.87 0 0 1 4 -10.11Z" fill="#fbd4d4"/>
<path d="M0 0L20.01 -50.53A54.35 54.35 0 0 1 31.95 -43.97Z" fill="#f9bfb7"/>
<path d="M0 0L16.01 -40.43A43.48 43.48 0 0 1 25.56 -35.18Z" fill="#f9c0b8"/>
<path d="M0 0L12 -30.32A32.61 32.61 0 0 1 19.17 -26.38Z" fill="#f9c3bb"/>
<path d="M0 0L8 -20.21A21.74 21.74 0 0 1 12.78 -17.59Z" fill="#fac9c3"/>
<path d="M0 0L4 -10.11A10.87 10.87 0 0 1 6.39 -8.79Z" fill="#fbd7d2"/>
<path d="M0 0L31.95 -43.97A54.35 54.35 0 0 1 41.88 -34.64Z" fill="#f9c6b5"/>
<path d="M0 0L25.56 -35.18A43.48 43.48 0 0 1 33.5 -27.72Z" fill="#f9c7b6"/>
<path d="M0 0L19.17 -26.38A32.61 32.61 0 0 1 25.13 -20.79Z" fill="#f9c9b9"/>
<path d="M0 0L12.78 -17.59A21.74 21.74 0 0 1 16.75 -13.86Z" fill="#facfc1"/>
<path d="M0 0L6.39 -8.79A10.87 10.87 0 0 1 8.38 -6.93Z" fill="#fbdcd1"/>
<path d="M0 0L41.88 -34.64A54.35 54.35 0 0 1 49.18 -23.14Z" fill="#f9d0b4"/>
<path d="M0 0L33.5 -27.72A43.48 43.48 0 0 1 39.34 -18.51Z" fill="#f9d1b6"/>
<path d="M0 0L25.13 -20.79A32.61 32.61 0 0 1 29.51 -13.88Z" fill="#f9d3b8"/>
<path d="M0 0L16.75 -13.86A21.74 21.74 0 0 1 19.67 -9.26Z" fill="#fad8c0"/>
<path d="M0 0L8.38 -6.93A10.87 10.87 0 0 1 9.84 -4.63Z" fill="#fbe2d0"/>
<path d="M0 0L49.18 -23.14A54.35 54.35 0 0 1 53.39 -10.18Z" fill="#fae0b4"/>
<path d="M0 0L39.34 -18.51A43.48 43.48 0 0 1 42.71 -8.15Z" fill="#fae1b6"/>
<path d="M0 0L29.51 -13.88A32.61 32.61 0 0 1 32.03 -6.11Z" fill="#fae2b8"/>
<path d="M0 0L19.67 -9.26A21.74 21.74 0 0 1 21.35 -4.07Z" fill="#fbe5c0"/>
<path d="M0 0L9.84 -4.63A10.87 10.87 0 0 1 10.68 -2.04Z" fill="#fcecd0"/>
<path d="M0 0L53.39 -10.18A54.35 54.35 0 0 1 54.24 3.41Z" fill="#faeeb4"/>
<path d="M0 0L42.71 -8.15A43.48 43.48 0 0 1 43.39 2.73Z" fill="#faeeb6"/>
<path d="M0 0L32.03 -6.11A32.61 32.61 0 0 1 32.55 2.05Z" fill="#faefb8"/>
<path d="M0 0L21.35 -4.07A21.74 21.74 0 0 1 21.7 1.37Z" fill="#fbf1c0"/>
<path d="M0 0L10.68 -2.04A10.87 10.87 0 0 1 10.85 0.68Z" fill="#fcf4d0"/>
<path d="M0 0L54.24 3.41A54.35 54.35 0 0 1 51.69 16.8Z" fill="#f7f8b6"/>
<path d="M0 0L43.39 2.73A43.48 43.48 0 0 1 41.35 13.44Z" fill="#f7f8b7"/>
<path d="M0 0L32.55 2.05A32.61 32.61 0 0 1 31.01 10.08Z" fill="#f7f8ba"/>
<path d="M0 0L21.7 1.37A21.74 21.74 0 0 1 20.68 6.72Z" fill="#f8f9c2"/>
<path d="M0 0L10.85 0.68A10.87 10.87 0 0 1 10.34 3.36Z" fill="#fafbd2"/>
<path d="M0 0L51.69 16.8A54.35 54.35 0 0 1 45.89 29.12Z" fill="#ecf8b8"/>
<path d="M0 0L41.35 13.44A43.48 43.48 0 0 1 36.71 23.3Z" fill="#ecf8b9"/>
<path d="M0 0L31.01 10.08A32.61 32.61 0 0 1 27.53 17.47Z" fill="#edf8bc"/>
<path d="M0 0L20.68 6.72A21.74 21.74 0 0 1 18.36 11.65Z" fill="#eff9c3"/>
<path d="M0 0L10.34 3.36A10.87 10.87 0 0 1 9.18 5.82Z" fill="#f3fbd3"/>
<path d="M0 0L45.89 29.12A54.35 54.35 0 0 1 37.21 39.62Z" fill="#def7ba"/>
<path d="M0 0L36.71 23.3A43.48 43.48 0 0 1 29.76 31.7Z" fill="#dff7bb"/>
<path d="M0 0L27.53 17.47A32.61 32.61 0 0 1 22.32 23.77Z" fill="#e0f7be"/>
<path d="M0 0L18.36 11.65A21.74 21.74 0 0 1 14.88 15.85Z" fill="#e3f8c5"/>
<path d="M0 0L9.18 5.82A10.87 10.87 0 0 1 7.44 7.92Z" fill="#ebfad4"/>
<path d="M0 0L37.21 39.62A54.35 54.35 0 0 1 26.18 47.63Z" fill="#d0f6be"/>
<path d="M0 0L29.76 31.7A43.48 43.48 0 0 1 20.95 38.1Z" fill="#d1f6bf"/>
<path d="M0 0L22.32 23.77A32.61 32.61 0 0 1 15.71 28.58Z" fill="#d3f7c2"/>
<path d="M0 0L14.88 15.85A21.74 21.74 0 0 1 10.47 19.05Z" fill="#d8f7c8"/>
<path d="M0 0L7.44 7.92A10.87 10.87 0 0 1 5.24 9.53Z" fill="#e2f9d7"/>
<path d="M0 0L26.18 47.63A54.35 54.35 0 0 1 13.52 52.64Z" fill="#c3f6c4"/>
<path d="M0 0L20.95 38.1A43.48 43.48 0 0 1 10.81 42.11Z" fill="#c4f6c5"/>
<path d="M0 0L15.71 28.58A32.61 32.61 0 0 1 8.11 31.59Z" fill="#c7f7c8"/>
<path d="M0 0L10.47 19.05A21.74 21.74 0 0 1 5.41 21.06Z" fill="#cdf7cd"/>
<path d="M0 0L5.24 9.53A10.87 10.87 0 0 1 2.7 10.53Z" fill="#daf9da"/>
<path d="M0 0L13.52 52.64A54.35 54.35 0 0 1 0 54.35Z" fill="#bcf6d2"/>
<path d="M0 0L10.81 42.11A43.48 43.48 0 0 1 0 43.48Z" fill="#bdf6d3"/>
<path d="M0 0L8.11 31.59A32.61 32.61 0 0 1 0 32.61Z" fill="#c0f7d5"/>
<path d="M0 0L5.41 21.06A21.74 21.74 0 0 1 0 21.74Z" fill="#c7f7d9"/>
<path d="M0 0L2.7 10.53A10.87 10.87 0 0 1 0 10.87Z" fill="#d5f9e3"/>
<path d="M0 0L-0 54.35A54.35 54.35 0 0 1 -13.52 52.64Z" fill="#b9f6e6"/>
<path d="M0 0L-0 43.48A43.48 43.48 0 0 1 -10.81 42.11Z" fill="#baf6e6"/>
<path d="M0 0L-0 32.61A32.61 32.61 0 0 1 -8.11 31.59Z" fill="#bdf7e8"/>
<path d="M0 0L-0 21.74A21.74 21.74 0 0 1 -5.41 21.06Z" fill="#c4f7ea"/>
<path d="M0 0L-0 10.87A10.87 10.87 0 0 1 -2.7 10.53Z" fill="#d4f9f0"/>
<path d="M0 0L-13.52 52.64A54.35 54.35 0 0 1 -26.18 47.63Z" fill="#b7eef8"/>
<path d="M0 0L-10.81 42.11A43.48 43.48 0 0 1 -20.95 38.1Z" fill="#b8eef8"/>
<path d="M0 0L-8.11 31.59A32.61 32.61 0 0 1 -15.71 28.58Z" fill="#bbeff8"/>
<path d="M0 0L-5.41 21.06A21.74 21.74 0 0 1 -10.47 19.05Z" fill="#c3f1f9"/>
<path d="M0 0L-2.7 10.53A10.87 10.87 0 0 1 -5.24 9.53Z" fill="#d2f4fb"/>
<path d="M0 0L-26.18 47.63A54.35 54.35 0 0 1 -37.21 39.62Z" fill="#b4d7f8"/>
<path d="M0 0L-20.95 38.1A43.48 43.48 0 0 1 -29.76 31.7Z" fill="#b6d8f8"/>
<path d="M0 0L-15.71 28.58A32.61 32.61 0 0 1 -22.32 23.77Z" fill="#b8d9f8"/>
<path d="M0 0L-10.47 19.05A21.74 21.74 0 0 1 -14.88 15.85Z" fill="#c0ddf9"/>
<path d="M0 0L-5.24 9.53A10.87 10.87 0 0 1 -7.44 7.92Z" fill="#d0e6fb"/>
<path d="M0 0L-37.21 39.62A54.35 54.35 0 0 1 -45.89 29.12Z" fill="#b0bef7"/>
<path d="M0 0L-29.76 31.7A43.48 43.48 0 0 1 -36.71 23.3Z" fill="#b2bff7"/>
<path d="M0 0L-22.32 23.77A32.61 32.61 0 0 1 -27.53 17.47Z" fill="#b5c2f7"/>
<path d="M0 0L-14.88 15.85A21.74 21.74 0 0 1 -18.36 11.65Z" fill="#bdc8f8"/>
<path d="M0 0L-7.44 7.92A10.87 10.87 0 0 1 -9.18 5.82Z" fill="#ced7fa"/>
<path d="M0 0L-45.89 29.12A54.35 54.35 0 0 1 -51.69 16.8Z" fill="#bfb6f7"/>
<path d="M0 0L-36.71 23.3A43.48 43.48 0 0 1 -41.35 13.44Z" fill="#c0b7f7"/>
<path d="M0 0L-27.53 17.47A32.61 32.61 0 0 1 -31.01 10.08Z" fill="#c3baf7"/>
<path d="M0 0L-18.36 11.65A21.74 21.74 0 0 1 -20.68 6.72Z" fill="#c9c2f8"/>
<path d="M0 0L-9.18 5.82A10.87 10.87 0 0 1 -10.34 3.36Z" fill="#d7d2fa"/>
<path d="M0 0L-51.69 16.8A54.35 54.35 0 0 1 -54.24 3.41Z" fill="#d0b6f7"/>
<path d="M0 0L-41.35 13.44A43.48 43.48 0 0 1 -43.39 2.73Z" fill="#d1b7f7"/>
<path d="M0 0L-31.01 10.08A32.61 32.61 0 0 1 -32.55 2.05Z" fill="#d3baf7"/>
<path d="M0 0L-20.68 6.72A21.74 21.74 0 0 1 -21.7 1.37Z" fill="#d8c2f8"/>
<path d="M0 0L-10.34 3.36A10.87 10.87 0 0 1 -10.85 0.68Z" fill="#e2d2fa"/>
<path d="M0 0L-54.24 3.41A54.35 54.35 0 0 1 -53.39 -10.18Z" fill="#e1b6f6"/>
<path d="M0 0L-43.39 2.73A43.48 43.48 0 0 1 -42.71 -8.15Z" fill="#e2b7f6"/>
<path d="M0 0L-32.55 2.05A32.61 32.61 0 0 1 -32.03 -6.11Z" fill="#e3baf7"/>
<path d="M0 0L-21.7 1.37A21.74 21.74 0 0 1 -21.35 -4.07Z" fill="#e6c2f7"/>
<path d="M0 0L-10.85 0.68A10.87 10.87 0 0 1 -10.68 -2.04Z" fill="#ecd2f9"/>
<path d="M0 0L-53.39 -10.18A54.35 54.35 0 0 1 -49.18 -23.14Z" fill="#ecb4f2"/>
<path d="M0 0L-42.71 -8.15A43.48 43.48 0 0 1 -39.34 -18.51Z" fill="#ecb6f2"/>
<path d="M0 0L-32.03 -6.11A32.61 32.61 0 0 1 -29.51 -13.88Z" fill="#edb8f3"/>
<path d="M0 0L-21.35 -4.07A21.74 21.74 0 0 1 -19.67 -9.26Z" fill="#efc0f4"/>
<path d="M0 0L-10.68 -2.04A10.87 10.87 0 0 1 -9.84 -4.63Z" fill="#f3d0f7"/>
<path d="M0 0L-49.18 -23.14A54.35 54.35 0 0 1 -41.88 -34.64Z" fill="#f0b2e4"/>
<path d="M0 0L-39.34 -18.51A43.48 43.48 0 0 1 -33.5 -27.72Z" fill="#f0b4e5"/>
<path d="M0 0L-29.51 -13.88A32.61 32.61 0 0 1 -25.13 -20.79Z" fill="#f1b7e6"/>
<path d="M0 0L-19.67 -9.26A21.74 21.74 0 0 1 -16.75 -13.86Z" fill="#f2bee8"/>
<path d="M0 0L-9.84 -4.63A10.87 10.87 0 0 1 -8.38 -6.93Z" fill="#f6cfee"/>
<path d="M0 0L-41.88 -34.64A54.35 54.35 0 0 1 -31.95 -43.97Z" fill="#f3b2d4"/>
<path d="M0 0L-33.5 -27.72A43.48 43.48 0 0 1 -25.56 -35.18Z" fill="#f3b4d5"/>
<path d="M0 0L-25.13 -20.79A32.61 32.61 0 0 1 -19.17 -26.38Z" fill="#f4b7d7"/>
<path d="M0 0L-16.75 -13.86A21.74 21.74 0 0 1 -12.78 -17.59Z" fill="#f5bedb"/>
<path d="M0 0L-8.38 -6.93A10.87 10.87 0 0 1 -6.39 -8.79Z" fill="#f8cfe4"/>
<path d="M0 0L-31.95 -43.97A54.35 54.35 0 0 1 -20.01 -50.53Z" fill="#f5b2c8"/>
<path d="M0 0L-25.56 -35.18A43.48 43.48 0 0 1 -16.01 -40.43Z" fill="#f5b4c9"/>
<path d="M0 0L-19.17 -26.38A32.61 32.61 0 0 1 -12 -30.32Z" fill="#f6b7cb"/>
<path d="M0 0L-12.78 -17.59A21.74 21.74 0 0 1 -8 -20.21Z" fill="#f7bed1"/>
<path d="M0 0L-6.39 -8.79A10.87 10.87 0 0 1 -4 -10.11Z" fill="#f9cfdd"/>
<path d="M0 0L-20.01 -50.53A54.35 54.35 0 0 1 -6.81 -53.92Z" fill="#f6b2c0"/>
<path d="M0 0L-16.01 -40.43A43.48 43.48 0 0 1 -5.45 -43.14Z" fill="#f6b4c1"/>
<path d="M0 0L-12 -30.32A32.61 32.61 0 0 1 -4.09 -32.35Z" fill="#f7b7c4"/>
<path d="M0 0L-8 -20.21A21.74 21.74 0 0 1 -2.72 -21.57Z" fill="#f7beca"/>
<path d="M0 0L-4 -10.11A10.87 10.87 0 0 1 -1.36 -10.78Z" fill="#f9cfd8"/>
<line x1="0" y1="0" x2="6.81" y2="-53.92" stroke="#fff" stroke-width="0.5" stroke-opacity="0.85"/>
<line x1="0" y1="0" x2="20.01" y2="-50.53" stroke="#fff" stroke-width="0.5" stroke-opacity="0.85"/>
<line x1="0" y1="0" x2="31.95" y2="-43.97" stroke="#fff" stroke-width="0.5" stroke-opacity="0.85"/>
<line x1="0" y1="0" x2="41.88" y2="-34.64" stroke="#fff" stroke-width="0.5" stroke-opacity="0.85"/>
<line x1="0" y1="0" x2="49.18" y2="-23.14" stroke="#fff" stroke-width="0.5" stroke-opacity="0.85"/>
<line x1="0" y1="0" x2="53.39" y2="-10.18" stroke="#fff" stroke-width="0.5" stroke-opacity="0.85"/>
<line x1="0" y1="0" x2="54.24" y2="3.41" stroke="#fff" stroke-width="0.5" stroke-opacity="0.85"/>
<line x1="0" y1="0" x2="51.69" y2="16.8" stroke="#fff" stroke-width="0.5" stroke-opacity="0.85"/>
<line x1="0" y1="0" x2="45.89" y2="29.12" stroke="#fff" stroke-width="0.5" stroke-opacity="0.85"/>
<line x1="0" y1="0" x2="37.21" y2="39.62" stroke="#fff" stroke-width="0.5" stroke-opacity="0.85"/>
<line x1="0" y1="0" x2="26.18" y2="47.63" stroke="#fff" stroke-width="0.5" stroke-opacity="0.85"/>
<line x1="0" y1="0" x2="13.52" y2="52.64" stroke="#fff" stroke-width="0.5" stroke-opacity="0.85"/>
<line x1="0" y1="0" x2="0" y2="54.35" stroke="#fff" stroke-width="0.5" stroke-opacity="0.85"/>
<line x1="0" y1="0" x2="-13.52" y2="52.64" stroke="#fff" stroke-width="0.5" stroke-opacity="0.85"/>
<line x1="0" y1="0" x2="-26.18" y2="47.63" stroke="#fff" stroke-width="0.5" stroke-opacity="0.85"/>
<line x1="0" y1="0" x2="-37.21" y2="39.62" stroke="#fff" stroke-width="0.5" stroke-opacity="0.85"/>
<line x1="0" y1="0" x2="-45.89" y2="29.12" stroke="#fff" stroke-width="0.5" stroke-opacity="0.85"/>
<line x1="0" y1="0" x2="-51.69" y2="16.8" stroke="#fff" stroke-width="0.5" stroke-opacity="0.85"/>
<line x1="0" y1="0" x2="-54.24" y2="3.41" stroke="#fff" stroke-width="0.5" stroke-opacity="0.85"/>
<line x1="0" y1="0" x2="-53.39" y2="-10.18" stroke="#fff" stroke-width="0.5" stroke-opacity="0.85"/>
<line x1="0" y1="0" x2="-49.18" y2="-23.14" stroke="#fff" stroke-width="0.5" stroke-opacity="0.85"/>
<line x1="0" y1="0" x2="-41.88" y2="-34.64" stroke="#fff" stroke-width="0.5" stroke-opacity="0.85"/>
<line x1="0" y1="0" x2="-31.95" y2="-43.97" stroke="#fff" stroke-width="0.5" stroke-opacity="0.85"/>
<line x1="0" y1="0" x2="-20.01" y2="-50.53" stroke="#fff" stroke-width="0.5" stroke-opacity="0.85"/>
<line x1="0" y1="0" x2="-6.81" y2="-53.92" stroke="#fff" stroke-width="0.5" stroke-opacity="0.85"/>
<circle r="10.87" fill="none" stroke="#fff" stroke-width="0.5" stroke-opacity="0.6"/>
<circle r="21.74" fill="none" stroke="#fff" stroke-width="0.5" stroke-opacity="0.6"/>
<circle r="32.61" fill="none" stroke="#fff" stroke-width="0.5" stroke-opacity="0.6"/>
<circle r="43.48" fill="none" stroke="#fff" stroke-width="0.5" stroke-opacity="0.6"/>
<circle r="2.2" fill="#fff" fill-opacity="0.75"/>
</g>
<polygon points="96.75,283.3 103.64,270.32 107.43,277.73 109.64,283.42 113.12,286.76 122.04,288.93 125.5,295.34 123.42,302.24 113.29,304.93 116.81,313.75 108.15,312.84 102.66,312.09 97.72,304.84 95.57,306.49 82.47,333.21 80.47,319.56 61.75,326.11 94.24,298.33 95.12,297.46 94.54,297.01 78.84,291.33 94.88,295.96 92.2,292.3 94.08,292.3 92.2,279.44" fill="none" stroke="#111" stroke-width="0.8" stroke-dasharray="0.9 0.9" stroke-linejoin="round"/>
<polygon points="96.75,295.49 97.16,295.54 123.44,248.6 97.89,295.94 120.61,282.01 98.33,296.64 137.11,294.61 124.5,302.44 117.8,307.06 139.44,332.46 98.05,298.94 97.36,298.7 97.44,302.65 96.54,298.8 95.93,299.21 81.45,318.22 54.06,332.46 81.21,304.46 94.03,297.67 95.09,297.05 95.17,296.64 95.35,296.26 94.85,295.13 95.42,294.72 93.58,284.81" fill="none" stroke="#161616" stroke-width="1.3" stroke-linejoin="round"/>
</g>
<rect x="82.85" y="295.25" width="9.5" height="4.6" fill="#fff" fill-opacity="0.72"/>
<text class="tick" transform="translate(91.65 299.15) scale(.1 .112)" text-anchor="end">0.00</text>
<rect x="82.85" y="284.13" width="9.5" height="4.6" fill="#fff" fill-opacity="0.72"/>
<text class="tick" transform="translate(91.65 288.03) scale(.1 .112)" text-anchor="end">0.20</text>
<rect x="82.85" y="273" width="9.5" height="4.6" fill="#fff" fill-opacity="0.72"/>
<text class="tick" transform="translate(91.65 276.9) scale(.1 .112)" text-anchor="end">0.40</text>
<rect x="82.85" y="261.88" width="9.5" height="4.6" fill="#fff" fill-opacity="0.72"/>
<text class="tick" transform="translate(91.65 265.78) scale(.1 .112)" text-anchor="end">0.60</text>
<rect x="82.85" y="250.75" width="9.5" height="4.6" fill="#fff" fill-opacity="0.72"/>
<text class="tick" transform="translate(91.65 254.65) scale(.1 .112)" text-anchor="end">0.80</text>
<rect x="82.85" y="239.63" width="9.5" height="4.6" fill="#fff" fill-opacity="0.72"/>
<text class="tick" transform="translate(91.65 243.53) scale(.1 .112)" text-anchor="end">1.00</text>
<text class="cat" transform="translate(96.95 237.5) scale(.1)" text-anchor="middle">Productivity</text>
<text class="cat" transform="translate(111.52 242.73) scale(.1)">Labour force</text>
<text class="cat" transform="translate(125.09 248.5) scale(.1)">Talent pool</text>
<text class="cat" transform="translate(136.89 256.37) scale(.1)">Industry</text>
<text class="cat" transform="translate(146.19 268.31) scale(.1)">Income</text>
<text class="cat" transform="translate(152.4 281.52) scale(.1)">Health</text>
<text class="cat" transform="translate(155.14 295.85) scale(.1)">Education</text>
<text class="cat" transform="translate(154.22 310.41) scale(.1)">Safety</text>
<text class="cat" transform="translate(149.71 324.28) scale(.1)">Housing</text>
<text class="cat" transform="translate(141.89 336.6) scale(.1)">Progress</text>
<text class="cat" transform="translate(131.26 346.38) scale(.1)">Transit</text>
<text class="cat" transform="translate(118.47 353.31) scale(.1)">Vehicles</text>
<text class="cat" transform="translate(104.34 356.79) scale(.1)">Energy</text>
<text class="cat" transform="translate(89.66 356.84) scale(.1)" text-anchor="end">Buildings</text>
<text class="cat" transform="translate(75.53 353.66) scale(.1)" text-anchor="end">Sanitation</text>
<text class="cat" transform="translate(62.74 346.63) scale(.1)" text-anchor="end">Smart policy</text>
<text class="cat" transform="translate(52.11 336.65) scale(.1)" text-anchor="end">Sustainable policy</text>
<text class="cat" transform="translate(44.29 324.33) scale(.1)" text-anchor="end">Participation</text>
<text class="cat" transform="translate(39.78 310.46) scale(.1)" text-anchor="end">Research support</text>
<text class="cat" transform="translate(38.86 295.9) scale(.1)" text-anchor="end">University</text>
<text class="cat" transform="translate(41.6 281.57) scale(.1)" text-anchor="end">Internet</text>
<text class="cat" transform="translate(47.81 268.36) scale(.1)" text-anchor="end">Wi-Fi</text>
<text class="cat" transform="translate(57.11 256.42) scale(.1)" text-anchor="end">Innovation</text>
<text class="cat" transform="translate(68.91 248.35) scale(.1)" text-anchor="end">Research capacity</text>
<text class="cat" transform="translate(82.48 243.53) scale(.1)" text-anchor="end">Media</text>
<line x1="48" y1="225.3" x2="60" y2="225.3" stroke="#161616" stroke-width="1.3"/>
<text class="cat" transform="translate(61.1 227.2) scale(.1)">Amapá (AP) Macapá</text>
<line x1="114.2" y1="225.3" x2="127.5" y2="225.3" stroke="#111" stroke-width="0.8" stroke-dasharray="0.9 0.9"/>
<text class="cat" transform="translate(128.2 227.2) scale(.1)">Average</text>
</g>
<g><!-- Porto Velho -->
<path d="M227 197L229 195V197Z" fill="#c8323f"/>
<path d="M227 196.8H294L297.6 203.05L294 209.3H227Z" fill="#ee525b"/>
<text class="ban" transform="translate(233.3 205.8) scale(.1)">Porto Velho</text>
<g filter="url(#soft)">
<g transform="translate(289.55 297.75) scale(1 0.9770)">
<path d="M0 0L-6.81 -53.92A54.35 54.35 0 0 1 6.81 -53.92Z" fill="#f8b5ba"/>
<path d="M0 0L-5.45 -43.14A43.48 43.48 0 0 1 5.45 -43.14Z" fill="#f8b6bb"/>
<path d="M0 0L-4.09 -32.35A32.61 32.61 0 0 1 4.09 -32.35Z" fill="#f8b9be"/>
<path d="M0 0L-2.72 -21.57A21.74 21.74 0 0 1 2.72 -21.57Z" fill="#f9c1c5"/>
<path d="M0 0L-1.36 -10.78A10.87 10.87 0 0 1 1.36 -10.78Z" fill="#fbd1d4"/>
<path d="M0 0L6.81 -53.92A54.35 54.35 0 0 1 20.01 -50.53Z" fill="#f9bab9"/>
<path d="M0 0L5.45 -43.14A43.48 43.48 0 0 1 16.01 -40.43Z" fill="#f9bbba"/>
<path d="M0 0L4.09 -32.35A32.61 32.61 0 0 1 12 -30.32Z" fill="#f9bebd"/>
<path d="M0 0L2.72 -21.57A21.74 21.74 0 0 1 8 -20.21Z" fill="#fac5c4"/>
<path d="M0 0L1.36 -10.78A10.87 10.87 0 0 1 4 -10.11Z" fill="#fbd4d4"/>
<path d="M0 0L20.01 -50.53A54.35 54.35 0 0 1 31.95 -43.97Z" fill="#f9bfb7"/>
<path d="M0 0L16.01 -40.43A43.48 43.48 0 0 1 25.56 -35.18Z" fill="#f9c0b8"/>
<path d="M0 0L12 -30.32A32.61 32.61 0 0 1 19.17 -26.38Z" fill="#f9c3bb"/>
<path d="M0 0L8 -20.21A21.74 21.74 0 0 1 12.78 -17.59Z" fill="#fac9c3"/>
<path d="M0 0L4 -10.11A10.87 10.87 0 0 1 6.39 -8.79Z" fill="#fbd7d2"/>
<path d="M0 0L31.95 -43.97A54.35 54.35 0 0 1 41.88 -34.64Z" fill="#f9c6b5"/>
<path d="M0 0L25.56 -35.18A43.48 43.48 0 0 1 33.5 -27.72Z" fill="#f9c7b6"/>
<path d="M0 0L19.17 -26.38A32.61 32.61 0 0 1 25.13 -20.79Z" fill="#f9c9b9"/>
<path d="M0 0L12.78 -17.59A21.74 21.74 0 0 1 16.75 -13.86Z" fill="#facfc1"/>
<path d="M0 0L6.39 -8.79A10.87 10.87 0 0 1 8.38 -6.93Z" fill="#fbdcd1"/>
<path d="M0 0L41.88 -34.64A54.35 54.35 0 0 1 49.18 -23.14Z" fill="#f9d0b4"/>
<path d="M0 0L33.5 -27.72A43.48 43.48 0 0 1 39.34 -18.51Z" fill="#f9d1b6"/>
<path d="M0 0L25.13 -20.79A32.61 32.61 0 0 1 29.51 -13.88Z" fill="#f9d3b8"/>
<path d="M0 0L16.75 -13.86A21.74 21.74 0 0 1 19.67 -9.26Z" fill="#fad8c0"/>
<path d="M0 0L8.38 -6.93A10.87 10.87 0 0 1 9.84 -4.63Z" fill="#fbe2d0"/>
<path d="M0 0L49.18 -23.14A54.35 54.35 0 0 1 53.39 -10.18Z" fill="#fae0b4"/>
<path d="M0 0L39.34 -18.51A43.48 43.48 0 0 1 42.71 -8.15Z" fill="#fae1b6"/>
<path d="M0 0L29.51 -13.88A32.61 32.61 0 0 1 32.03 -6.11Z" fill="#fae2b8"/>
<path d="M0 0L19.67 -9.26A21.74 21.74 0 0 1 21.35 -4.07Z" fill="#fbe5c0"/>
<path d="M0 0L9.84 -4.63A10.87 10.87 0 0 1 10.68 -2.04Z" fill="#fcecd0"/>
<path d="M0 0L53.39 -10.18A54.35 54.35 0 0 1 54.24 3.41Z" fill="#faeeb4"/>
<path d="M0 0L42.71 -8.15A43.48 43.48 0 0 1 43.39 2.73Z" fill="#faeeb6"/>
<path d="M0 0L32.03 -6.11A32.61 32.61 0 0 1 32.55 2.05Z" fill="#faefb8"/>
<path d="M0 0L21.35 -4.07A21.74 21.74 0 0 1 21.7 1.37Z" fill="#fbf1c0"/>
<path d="M0 0L10.68 -2.04A10.87 10.87 0 0 1 10.85 0.68Z" fill="#fcf4d0"/>
<path d="M0 0L54.24 3.41A54.35 54.35 0 0 1 51.69 16.8Z" fill="#f7f8b6"/>
<path d="M0 0L43.39 2.73A43.48 43.48 0 0 1 41.35 13.44Z" fill="#f7f8b7"/>
<path d="M0 0L32.55 2.05A32.61 32.61 0 0 1 31.01 10.08Z" fill="#f7f8ba"/>
<path d="M0 0L21.7 1.37A21.74 21.74 0 0 1 20.68 6.72Z" fill="#f8f9c2"/>
<path d="M0 0L10.85 0.68A10.87 10.87 0 0 1 10.34 3.36Z" fill="#fafbd2"/>
<path d="M0 0L51.69 16.8A54.35 54.35 0 0 1 45.89 29.12Z" fill="#ecf8b8"/>
<path d="M0 0L41.35 13.44A43.48 43.48 0 0 1 36.71 23.3Z" fill="#ecf8b9"/>
<path d="M0 0L31.01 10.08A32.61 32.61 0 0 1 27.53 17.47Z" fill="#edf8bc"/>
<path d="M0 0L20.68 6.72A21.74 21.74 0 0 1 18.36 11.65Z" fill="#eff9c3"/>
<path d="M0 0L10.34 3.36A10.87 10.87 0 0 1 9.18 5.82Z" fill="#f3fbd3"/>
<path d="M0 0L45.89 29.12A54.35 54.35 0 0 1 37.21 39.62Z" fill="#def7ba"/>
<path d="M0 0L36.71 23.3A43.48 43.48 0 0 1 29.76 31.7Z" fill="#dff7bb"/>
<path d="M0 0L27.53 17.47A32.61 32.61 0 0 1 22.32 23.77Z" fill="#e0f7be"/>
<path d="M0 0L18.36 11.65A21.74 21.74 0 0 1 14.88 15.85Z" fill="#e3f8c5"/>
<path d="M0 0L9.18 5.82A10.87 10.87 0 0 1 7.44 7.92Z" fill="#ebfad4"/>
<path d="M0 0L37.21 39.62A54.35 54.35 0 0 1 26.18 47.63Z" fill="#d0f6be"/>
<path d="M0 0L29.76 31.7A43.48 43.48 0 0 1 20.95 38.1Z" fill="#d1f6bf"/>
<path d="M0 0L22.32 23.77A32.61 32.61 0 0 1 15.71 28.58Z" fill="#d3f7c2"/>
<path d="M0 0L14.88 15.85A21.74 21.74 0 0 1 10.47 19.05Z" fill="#d8f7c8"/>
<path d="M0 0L7.44 7.92A10.87 10.87 0 0 1 5.24 9.53Z" fill="#e2f9d7"/>
<path d="M0 0L26.18 47.63A54.35 54.35 0 0 1 13.52 52.64Z" fill="#c3f6c4"/>
<path d="M0 0L20.95 38.1A43.48 43.48 0 0 1 10.81 42.11Z" fill="#c4f6c5"/>
<path d="M0 0L15.71 28.58A32.61 32.61 0 0 1 8.11 31.59Z" fill="#c7f7c8"/>
<path d="M0 0L10.47 19.05A21.74 21.74 0 0 1 5.41 21.06Z" fill="#cdf7cd"/>
<path d="M0 0L5.24 9.53A10.87 10.87 0 0 1 2.7 10.53Z" fill="#daf9da"/>
<path d="M0 0L13.52 52.64A54.35 54.35 0 0 1 0 54.35Z" fill="#bcf6d2"/>
<path d="M0 0L10.81 42.11A43.48 43.48 0 0 1 0 43.48Z" fill="#bdf6d3"/>
<path d="M0 0L8.11 31.59A32.61 32.61 0 0 1 0 32.61Z" fill="#c0f7d5"/>
<path d="M0 0L5.41 21.06A21.74 21.74 0 0 1 0 21.74Z" fill="#c7f7d9"/>
<path d="M0 0L2.7 10.53A10.87 10.87 0 0 1 0 10.87Z" fill="#d5f9e3"/>
<path d="M0 0L-0 54.35A54.35 54.35 0 0 1 -13.52 52.64Z" fill="#b9f6e6"/>
<path d="M0 0L-0 43.48A43.48 43.48 0 0 1 -10.81 42.11Z" fill="#baf6e6"/>
<path d="M0 0L-0 32.61A32.61 32.61 0 0 1 -8.11 31.59Z" fill="#bdf7e8"/>
<path d="M0 0L-0 21.74A21.74 21.74 0 0 1 -5.41 21.06Z" fill="#c4f7ea"/>
<path d="M0 0L-0 10.87A10.87 10.87 0 0 1 -2.7 10.53Z" fill="#d4f9f0"/>
<path d="M0 0L-13.52 52.64A54.35 54.35 0 0 1 -26.18 47.63Z" fill="#b7eef8"/>
<path d="M0 0L-10.81 42.11A43.48 43.48 0 0 1 -20.95 38.1Z" fill="#b8eef8"/>
<path d="M0 0L-8.11 31.59A32.61 32.61 0 0 1 -15.71 28.58Z" fill="#bbeff8"/>
<path d="M0 0L-5.41 21.06A21.74 21.74 0 0 1 -10.47 19.05Z" fill="#c3f1f9"/>
<path d="M0 0L-2.7 10.53A10.87 10.87 0 0 1 -5.24 9.53Z" fill="#d2f4fb"/>
<path d="M0 0L-26.18 47.63A54.35 54.35 0 0 1 -37.21 39.62Z" fill="#b4d7f8"/>
<path d="M0 0L-20.95 38.1A43.48 43.48 0 0 1 -29.76 31.7Z" fill="#b6d8f8"/>
<path d="M0 0L-15.71 28.58A32.61 32.61 0 0 1 -22.32 23.77Z" fill="#b8d9f8"/>
<path d="M0 0L-10.47 19.05A21.74 21.74 0 0 1 -14.88 15.85Z" fill="#c0ddf9"/>
<path d="M0 0L-5.24 9.53A10.87 10.87 0 0 1 -7.44 7.92Z" fill="#d0e6fb"/>
<path d="M0 0L-37.21 39.62A54.35 54.35 0 0 1 -45.89 29.12Z" fill="#b0bef7"/>
<path d="M0 0L-29.76 31.7A43.48 43.48 0 0 1 -36.71 23.3Z" fill="#b2bff7"/>
<path d="M0 0L-22.32 23.77A32.61 32.61 0 0 1 -27.53 17.47Z" fill="#b5c2f7"/>
<path d="M0 0L-14.88 15.85A21.74 21.74 0 0 1 -18.36 11.65Z" fill="#bdc8f8"/>
<path d="M0 0L-7.44 7.92A10.87 10.87 0 0 1 -9.18 5.82Z" fill="#ced7fa"/>
<path d="M0 0L-45.89 29.12A54.35 54.35 0 0 1 -51.69 16.8Z" fill="#bfb6f7"/>
<path d="M0 0L-36.71 23.3A43.48 43.48 0 0 1 -41.35 13.44Z" fill="#c0b7f7"/>
<path d="M0 0L-27.53 17.47A32.61 32.61 0 0 1 -31.01 10.08Z" fill="#c3baf7"/>
<path d="M0 0L-18.36 11.65A21.74 21.74 0 0 1 -20.68 6.72Z" fill="#c9c2f8"/>
<path d="M0 0L-9.18 5.82A10.87 10.87 0 0 1 -10.34 3.36Z" fill="#d7d2fa"/>
<path d="M0 0L-51.69 16.8A54.35 54.35 0 0 1 -54.24 3.41Z" fill="#d0b6f7"/>
<path d="M0 0L-41.35 13.44A43.48 43.48 0 0 1 -43.39 2.73Z" fill="#d1b7f7"/>
<path d="M0 0L-31.01 10.08A32.61 32.61 0 0 1 -32.55 2.05Z" fill="#d3baf7"/>
<path d="M0 0L-20.68 6.72A21.74 21.74 0 0 1 -21.7 1.37Z" fill="#d8c2f8"/>
<path d="M0 0L-10.34 3.36A10.87 10.87 0 0 1 -10.85 0.68Z" fill="#e2d2fa"/>
<path d="M0 0L-54.24 3.41A54.35 54.35 0 0 1 -53.39 -10.18Z" fill="#e1b6f6"/>
<path d="M0 0L-43.39 2.73A43.48 43.48 0 0 1 -42.71 -8.15Z" fill="#e2b7f6"/>
<path d="M0 0L-32.55 2.05A32.61 32.61 0 0 1 -32.03 -6.11Z" fill="#e3baf7"/>
<path d="M0 0L-21.7 1.37A21.74 21.74 0 0 1 -21.35 -4.07Z" fill="#e6c2f7"/>
<path d="M0 0L-10.85 0.68A10.87 10.87 0 0 1 -10.68 -2.04Z" fill="#ecd2f9"/>
<path d="M0 0L-53.39 -10.18A54.35 54.35 0 0 1 -49.18 -23.14Z" fill="#ecb4f2"/>
<path d="M0 0L-42.71 -8.15A43.48 43.48 0 0 1 -39.34 -18.51Z" fill="#ecb6f2"/>
<path d="M0 0L-32.03 -6.11A32.61 32.61 0 0 1 -29.51 -13.88Z" fill="#edb8f3"/>
<path d="M0 0L-21.35 -4.07A21.74 21.74 0 0 1 -19.67 -9.26Z" fill="#efc0f4"/>
<path d="M0 0L-10.68 -2.04A10.87 10.87 0 0 1 -9.84 -4.63Z" fill="#f3d0f7"/>
<path d="M0 0L-49.18 -23.14A54.35 54.35 0 0 1 -41.88 -34.64Z" fill="#f0b2e4"/>
<path d="M0 0L-39.34 -18.51A43.48 43.48 0 0 1 -33.5 -27.72Z" fill="#f0b4e5"/>
<path d="M0 0L-29.51 -13.88A32.61 32.61 0 0 1 -25.13 -20.79Z" fill="#f1b7e6"/>
<path d="M0 0L-19.67 -9.26A21.74 21.74 0 0 1 -16.75 -13.86Z" fill="#f2bee8"/>
<path d="M0 0L-9.84 -4.63A10.87 10.87 0 0 1 -8.38 -6.93Z" fill="#f6cfee"/>
<path d="M0 0L-41.88 -34.64A54.35 54.35 0 0 1 -31.95 -43.97Z" fill="#f3b2d4"/>
<path d="M0 0L-33.5 -27.72A43.48 43.48 0 0 1 -25.56 -35.18Z" fill="#f3b4d5"/>
<path d="M0 0L-25.13 -20.79A32.61 32.61 0 0 1 -19.17 -26.38Z" fill="#f4b7d7"/>
<path d="M0 0L-16.75 -13.86A21.74 21.74 0 0 1 -12.78 -17.59Z" fill="#f5bedb"/>
<path d="M0 0L-8.38 -6.93A10.87 10.87 0 0 1 -6.39 -8.79Z" fill="#f8cfe4"/>
<path d="M0 0L-31.95 -43.97A54.35 54.35 0 0 1 -20.01 -50.53Z" fill="#f5b2c8"/>
<path d="M0 0L-25.56 -35.18A43.48 43.48 0 0 1 -16.01 -40.43Z" fill="#f5b4c9"/>
<path d="M0 0L-19.17 -26.38A32.61 32.61 0 0 1 -12 -30.32Z" fill="#f6b7cb"/>
<path d="M0 0L-12.78 -17.59A21.74 21.74 0 0 1 -8 -20.21Z" fill="#f7bed1"/>
<path d="M0 0L-6.39 -8.79A10.87 10.87 0 0 1 -4 -10.11Z" fill="#f9cfdd"/>
<path d="M0 0L-20.01 -50.53A54.35 54.35 0 0 1 -6.81 -53.92Z" fill="#f6b2c0"/>
<path d="M0 0L-16.01 -40.43A43.48 43.48 0 0 1 -5.45 -43.14Z" fill="#f6b4c1"/>
<path d="M0 0L-12 -30.32A32.61 32.61 0 0 1 -4.09 -32.35Z" fill="#f7b7c4"/>
<path d="M0 0L-8 -20.21A21.74 21.74 0 0 1 -2.72 -21.57Z" fill="#f7beca"/>
<path d="M0 0L-4 -10.11A10.87 10.87 0 0 1 -1.36 -10.78Z" fill="#f9cfd8"/>
<line x1="0" y1="0" x2="6.81" y2="-53.92" stroke="#fff" stroke-width="0.5" stroke-opacity="0.85"/>
<line x1="0" y1="0" x2="20.01" y2="-50.53" stroke="#fff" stroke-width="0.5" stroke-opacity="0.85"/>
<line x1="0" y1="0" x2="31.95" y2="-43.97" stroke="#fff" stroke-width="0.5" stroke-opacity="0.85"/>
<line x1="0" y1="0" x2="41.88" y2="-34.64" stroke="#fff" stroke-width="0.5" stroke-opacity="0.85"/>
<line x1="0" y1="0" x2="49.18" y2="-23.14" stroke="#fff" stroke-width="0.5" stroke-opacity="0.85"/>
<line x1="0" y1="0" x2="53.39" y2="-10.18" stroke="#fff" stroke-width="0.5" stroke-opacity="0.85"/>
<line x1="0" y1="0" x2="54.24" y2="3.41" stroke="#fff" stroke-width="0.5" stroke-opacity="0.85"/>
<line x1="0" y1="0" x2="51.69" y2="16.8" stroke="#fff" stroke-width="0.5" stroke-opacity="0.85"/>
<line x1="0" y1="0" x2="45.89" y2="29.12" stroke="#fff" stroke-width="0.5" stroke-opacity="0.85"/>
<line x1="0" y1="0" x2="37.21" y2="39.62" stroke="#fff" stroke-width="0.5" stroke-opacity="0.85"/>
<line x1="0" y1="0" x2="26.18" y2="47.63" stroke="#fff" stroke-width="0.5" stroke-opacity="0.85"/>
<line x1="0" y1="0" x2="13.52" y2="52.64" stroke="#fff" stroke-width="0.5" stroke-opacity="0.85"/>
<line x1="0" y1="0" x2="0" y2="54.35" stroke="#fff" stroke-width="0.5" stroke-opacity="0.85"/>
<line x1="0" y1="0" x2="-13.52" y2="52.64" stroke="#fff" stroke-width="0.5" stroke-opacity="0.85"/>
<line x1="0" y1="0" x2="-26.18" y2="47.63" stroke="#fff" stroke-width="0.5" stroke-opacity="0.85"/>
<line x1="0" y1="0" x2="-37.21" y2="39.62" stroke="#fff" stroke-width="0.5" stroke-opacity="0.85"/>
<line x1="0" y1="0" x2="-45.89" y2="29.12" stroke="#fff" stroke-width="0.5" stroke-opacity="0.85"/>
<line x1="0" y1="0" x2="-51.69" y2="16.8" stroke="#fff" stroke-width="0.5" stroke-opacity="0.85"/>
<line x1="0" y1="0" x2="-54.24" y2="3.41" stroke="#fff" stroke-width="0.5" stroke-opacity="0.85"/>
<line x1="0" y1="0" x2="-53.39" y2="-10.18" stroke="#fff" stroke-width="0.5" stroke-opacity="0.85"/>
<line x1="0" y1="0" x2="-49.18" y2="-23.14" stroke="#fff" stroke-width="0.5" stroke-opacity="0.85"/>
<line x1="0" y1="0" x2="-41.88" y2="-34.64" stroke="#fff" stroke-width="0.5" stroke-opacity="0.85"/>
<line x1="0" y1="0" x2="-31.95" y2="-43.97" stroke="#fff" stroke-width="0.5" stroke-opacity="0.85"/>
<line x1="0" y1="0" x2="-20.01" y2="-50.53" stroke="#fff" stroke-width="0.5" stroke-opacity="0.85"/>
<line x1="0" y1="0" x2="-6.81" y2="-53.92" stroke="#fff" stroke-width="0.5" stroke-opacity="0.85"/>
<circle r="10.87" fill="none" stroke="#fff" stroke-width="0.5" stroke-opacity="0.6"/>
<circle r="21.74" fill="none" stroke="#fff" stroke-width="0.5" stroke-opacity="0.6"/>
<circle r="32.61" fill="none" stroke="#fff" stroke-width="0.5" stroke-opacity="0.6"/>
<circle r="43.48" fill="none" stroke="#fff" stroke-width="0.5" stroke-opacity="0.6"/>
<circle r="2.2" fill="#fff" fill-opacity="0.75"/>
</g>
<polygon points="289.4,283.55 296.29,270.57 300.08,277.98 302.29,283.67 305.77,287.01 314.69,289.18 318.15,295.59 316.07,302.49 305.94,305.18 309.46,314 300.8,313.09 295.31,312.34 290.37,305.09 288.22,306.74 275.12,333.46 273.12,319.81 254.4,326.36 286.89,298.58 287.77,297.71 287.19,297.26 271.49,291.58 287.53,296.21 284.85,292.55 286.73,292.55 284.85,279.69" fill="none" stroke="#111" stroke-width="0.8" stroke-dasharray="0.9 0.9" stroke-linejoin="round"/>
<polygon points="289.4,286.32 291.88,287.74 292.87,291.09 292.81,293.77 300.63,290.28 298.88,294.32 316.49,295.7 314.43,302.18 301.93,303.3 310.1,314.53 301.77,314.43 290.83,301.01 290.65,307.29 289.19,299.05 288.79,298.95 288.42,298.74 288.12,298.46 267.34,307.78 287.77,297.71 287.74,297.3 287.82,296.89 288,296.51 288.26,296.19 288.07,294.97 279.07,257.16" fill="none" stroke="#161616" stroke-width="1.3" stroke-linejoin="round"/>
</g>
<rect x="275.5" y="295.5" width="9.5" height="4.6" fill="#fff" fill-opacity="0.72"/>
<text class="tick" transform="translate(284.3 299.4) scale(.1 .112)" text-anchor="end">0.00</text>
<rect x="275.5" y="284.38" width="9.5" height="4.6" fill="#fff" fill-opacity="0.72"/>
<text class="tick" transform="translate(284.3 288.28) scale(.1 .112)" text-anchor="end">0.20</text>
<rect x="275.5" y="273.25" width="9.5" height="4.6" fill="#fff" fill-opacity="0.72"/>
<text class="tick" transform="translate(284.3 277.15) scale(.1 .112)" text-anchor="end">0.40</text>
<rect x="275.5" y="262.13" width="9.5" height="4.6" fill="#fff" fill-opacity="0.72"/>
<text class="tick" transform="translate(284.3 266.03) scale(.1 .112)" text-anchor="end">0.60</text>
<rect x="275.5" y="251" width="9.5" height="4.6" fill="#fff" fill-opacity="0.72"/>
<text class="tick" transform="translate(284.3 254.9) scale(.1 .112)" text-anchor="end">0.80</text>
<rect x="275.5" y="239.88" width="9.5" height="4.6" fill="#fff" fill-opacity="0.72"/>
<text class="tick" transform="translate(284.3 243.78) scale(.1 .112)" text-anchor="end">1.00</text>
<text class="cat" transform="translate(289.6 237.75) scale(.1)" text-anchor="middle">Productivity</text>
<text class="cat" transform="translate(304.17 242.98) scale(.1)">Labour force</text>
<text class="cat" transform="translate(317.74 248.75) scale(.1)">Talent pool</text>
<text class="cat" transform="translate(329.54 256.62) scale(.1)">Industry</text>
<text class="cat" transform="translate(338.84 268.56) scale(.1)">Income</text>
<text class="cat" transform="translate(345.05 281.77) scale(.1)">Health</text>
<text class="cat" transform="translate(347.79 296.1) scale(.1)">Education</text>
<text class="cat" transform="translate(346.87 310.66) scale(.1)">Safety</text>
<text class="cat" transform="translate(342.36 324.53) scale(.1)">Housing</text>
<text class="cat" transform="translate(334.54 336.85) scale(.1)">Progress</text>
<text class="cat" transform="translate(323.91 346.63) scale(.1)">Transit</text>
<text class="cat" transform="translate(311.12 353.56) scale(.1)">Vehicles</text>
<text class="cat" transform="translate(296.99 357.04) scale(.1)">Energy</text>
<text class="cat" transform="translate(282.31 357.09) scale(.1)" text-anchor="end">Buildings</text>
<text class="cat" transform="translate(268.18 353.91) scale(.1)" text-anchor="end">Sanitation</text>
<text class="cat" transform="translate(255.39 346.88) scale(.1)" text-anchor="end">Smart policy</text>
<text class="cat" transform="translate(244.76 336.9) scale(.1)" text-anchor="end">Sustainable policy</text>
<text class="cat" transform="translate(236.94 324.58) scale(.1)" text-anchor="end">Participation</text>
<text class="cat" transform="translate(232.43 310.71) scale(.1)" text-anchor="end">Research support</text>
<text class="cat" transform="translate(231.51 296.15) scale(.1)" text-anchor="end">University</text>
<text class="cat" transform="translate(234.25 281.82) scale(.1)" text-anchor="end">Internet</text>
<text class="cat" transform="translate(240.46 268.61) scale(.1)" text-anchor="end">Wi-Fi</text>
<text class="cat" transform="translate(249.76 256.67) scale(.1)" text-anchor="end">Innovation</text>
<text class="cat" transform="translate(261.56 248.6) scale(.1)" text-anchor="end">Research capacity</text>
<text class="cat" transform="translate(275.13 243.78) scale(.1)" text-anchor="end">Media</text>
<line x1="231.2" y1="225.7" x2="243.2" y2="225.7" stroke="#161616" stroke-width="1.3"/>
<text class="cat" transform="translate(244.3 227.6) scale(.1)">Rondônia (RO) Porto Velho</text>
<line x1="313.6" y1="225.7" x2="326.9" y2="225.7" stroke="#111" stroke-width="0.8" stroke-dasharray="0.9 0.9"/>
<text class="cat" transform="translate(327.6 227.6) scale(.1)">Average</text>
</g>
<g><!-- Manaus -->
<path d="M6.8 388.3L8.8 386.3V388.3Z" fill="#c8323f"/>
<path d="M6.8 388.1H73.8L77.4 394.35L73.8 400.6H6.8Z" fill="#ee525b"/>
<text class="ban" transform="translate(13.1 397.1) scale(.1)">Manaus</text>
<g filter="url(#soft)">
<g transform="translate(97.95 487.85) scale(1 0.9770)">
<path d="M0 0L-6.81 -53.92A54.35 54.35 0 0 1 6.81 -53.92Z" fill="#f8b5ba"/>
<path d="M0 0L-5.45 -43.14A43.48 43.48 0 0 1 5.45 -43.14Z" fill="#f8b6bb"/>
<path d="M0 0L-4.09 -32.35A32.61 32.61 0 0 1 4.09 -32.35Z" fill="#f8b9be"/>
<path d="M0 0L-2.72 -21.57A21.74 21.74 0 0 1 2.72 -21.57Z" fill="#f9c1c5"/>
<path d="M0 0L-1.36 -10.78A10.87 10.87 0 0 1 1.36 -10.78Z" fill="#fbd1d4"/>
<path d="M0 0L6.81 -53.92A54.35 54.35 0 0 1 20.01 -50.53Z" fill="#f9bab9"/>
<path d="M0 0L5.45 -43.14A43.48 43.48 0 0 1 16.01 -40.43Z" fill="#f9bbba"/>
<path d="M0 0L4.09 -32.35A32.61 32.61 0 0 1 12 -30.32Z" fill="#f9bebd"/>
<path d="M0 0L2.72 -21.57A21.74 21.74 0 0 1 8 -20.21Z" fill="#fac5c4"/>
<path d="M0 0L1.36 -10.78A10.87 10.87 0 0 1 4 -10.11Z" fill="#fbd4d4"/>
<path d="M0 0L20.01 -50.53A54.35 54.35 0 0 1 31.95 -43.97Z" fill="#f9bfb7"/>
<path d="M0 0L16.01 -40.43A43.48 43.48 0 0 1 25.56 -35.18Z" fill="#f9c0b8"/>
<path d="M0 0L12 -30.32A32.61 32.61 0 0 1 19.17 -26.38Z" fill="#f9c3bb"/>
<path d="M0 0L8 -20.21A21.74 21.74 0 0 1 12.78 -17.59Z" fill="#fac9c3"/>
<path d="M0 0L4 -10.11A10.87 10.87 0 0 1 6.39 -8.79Z" fill="#fbd7d2"/>
<path d="M0 0L31.95 -43.97A54.35 54.35 0 0 1 41.88 -34.64Z" fill="#f9c6b5"/>
<path d="M0 0L25.56 -35.18A43.48 43.48 0 0 1 33.5 -27.72Z" fill="#f9c7b6"/>
<path d="M0 0L19.17 -26.38A32.61 32.61 0 0 1 25.13 -20.79Z" fill="#f9c9b9"/>
<path d="M0 0L12.78 -17.59A21.74 21.74 0 0 1 16.75 -13.86Z" fill="#facfc1"/>
<path d="M0 0L6.39 -8.79A10.87 10.87 0 0 1 8.38 -6.93Z" fill="#fbdcd1"/>
<path d="M0 0L41.88 -34.64A54.35 54.35 0 0 1 49.18 -23.14Z" fill="#f9d0b4"/>
<path d="M0 0L33.5 -27.72A43.48 43.48 0 0 1 39.34 -18.51Z" fill="#f9d1b6"/>
<path d="M0 0L25.13 -20.79A32.61 32.61 0 0 1 29.51 -13.88Z" fill="#f9d3b8"/>
<path d="M0 0L16.75 -13.86A21.74 21.74 0 0 1 19.67 -9.26Z" fill="#fad8c0"/>
<path d="M0 0L8.38 -6.93A10.87 10.87 0 0 1 9.84 -4.63Z" fill="#fbe2d0"/>
<path d="M0 0L49.18 -23.14A54.35 54.35 0 0 1 53.39 -10.18Z" fill="#fae0b4"/>
<path d="M0 0L39.34 -18.51A43.48 43.48 0 0 1 42.71 -8.15Z" fill="#fae1b6"/>
<path d="M0 0L29.51 -13.88A32.61 32.61 0 0 1 32.03 -6.11Z" fill="#fae2b8"/>
<path d="M0 0L19.67 -9.26A21.74 21.74 0 0 1 21.35 -4.07Z" fill="#fbe5c0"/>
<path d="M0 0L9.84 -4.63A10.87 10.87 0 0 1 10.68 -2.04Z" fill="#fcecd0"/>
<path d="M0 0L53.39 -10.18A54.35 54.35 0 0 1 54.24 3.41Z" fill="#faeeb4"/>
<path d="M0 0L42.71 -8.15A43.48 43.48 0 0 1 43.39 2.73Z" fill="#faeeb6"/>
<path d="M0 0L32.03 -6.11A32.61 32.61 0 0 1 32.55 2.05Z" fill="#faefb8"/>
<path d="M0 0L21.35 -4.07A21.74 21.74 0 0 1 21.7 1.37Z" fill="#fbf1c0"/>
<path d="M0 0L10.68 -2.04A10.87 10.87 0 0 1 10.85 0.68Z" fill="#fcf4d0"/>
<path d="M0 0L54.24 3.41A54.35 54.35 0 0 1 51.69 16.8Z" fill="#f7f8b6"/>
<path d="M0 0L43.39 2.73A43.48 43.48 0 0 1 41.35 13.44Z" fill="#f7f8b7"/>
<path d="M0 0L32.55 2.05A32.61 32.61 0 0 1 31.01 10.08Z" fill="#f7f8ba"/>
<path d="M0 0L21.7 1.37A21.74 21.74 0 0 1 20.68 6.72Z" fill="#f8f9c2"/>
<path d="M0 0L10.85 0.68A10.87 10.87 0 0 1 10.34 3.36Z" fill="#fafbd2"/>
<path d="M0 0L51.69 16.8A54.35 54.35 0 0 1 45.89 29.12Z" fill="#ecf8b8"/>
<path d="M0 0L41.35 13.44A43.48 43.48 0 0 1 36.71 23.3Z" fill="#ecf8b9"/>
<path d="M0 0L31.01 10.08A32.61 32.61 0 0 1 27.53 17.47Z" fill="#edf8bc"/>
<path d="M0 0L20.68 6.72A21.74 21.74 0 0 1 18.36 11.65Z" fill="#eff9c3"/>
<path d="M0 0L10.34 3.36A10.87 10.87 0 0 1 9.18 5.82Z" fill="#f3fbd3"/>
<path d="M0 0L45.89 29.12A54.35 54.35 0 0 1 37.21 39.62Z" fill="#def7ba"/>
<path d="M0 0L36.71 23.3A43.48 43.48 0 0 1 29.76 31.7Z" fill="#dff7bb"/>
<path d="M0 0L27.53 17.47A32.61 32.61 0 0 1 22.32 23.77Z" fill="#e0f7be"/>
<path d="M0 0L18.36 11.65A21.74 21.74 0 0 1 14.88 15.85Z" fill="#e3f8c5"/>
<path d="M0 0L9.18 5.82A10.87 10.87 0 0 1 7.44 7.92Z" fill="#ebfad4"/>
<path d="M0 0L37.21 39.62A54.35 54.35 0 0 1 26.18 47.63Z" fill="#d0f6be"/>
<path d="M0 0L29.76 31.7A43.48 43.48 0 0 1 20.95 38.1Z" fill="#d1f6bf"/>
<path d="M0 0L22.32 23.77A32.61 32.61 0 0 1 15.71 28.58Z" fill="#d3f7c2"/>
<path d="M0 0L14.88 15.85A21.74 21.74 0 0 1 10.47 19.05Z" fill="#d8f7c8"/>
<path d="M0 0L7.44 7.92A10.87 10.87 0 0 1 5.24 9.53Z" fill="#e2f9d7"/>
<path d="M0 0L26.18 47.63A54.35 54.35 0 0 1 13.52 52.64Z" fill="#c3f6c4"/>
<path d="M0 0L20.95 38.1A43.48 43.48 0 0 1 10.81 42.11Z" fill="#c4f6c5"/>
<path d="M0 0L15.71 28.58A32.61 32.61 0 0 1 8.11 31.59Z" fill="#c7f7c8"/>
<path d="M0 0L10.47 19.05A21.74 21.74 0 0 1 5.41 21.06Z" fill="#cdf7cd"/>
<path d="M0 0L5.24 9.53A10.87 10.87 0 0 1 2.7 10.53Z" fill="#daf9da"/>
<path d="M0 0L13.52 52.64A54.35 54.35 0 0 1 0 54.35Z" fill="#bcf6d2"/>
<path d="M0 0L10.81 42.11A43.48 43.48 0 0 1 0 43.48Z" fill="#bdf6d3"/>
<path d="M0 0L8.11 31.59A32.61 32.61 0 0 1 0 32.61Z" fill="#c0f7d5"/>
<path d="M0 0L5.41 21.06A21.74 21.74 0 0 1 0 21.74Z" fill="#c7f7d9"/>
<path d="M0 0L2.7 10.53A10.87 10.87 0 0 1 0 10.87Z" fill="#d5f9e3"/>
<path d="M0 0L-0 54.35A54.35 54.35 0 0 1 -13.52 52.64Z" fill="#b9f6e6"/>
<path d="M0 0L-0 43.48A43.48 43.48 0 0 1 -10.81 42.11Z" fill="#baf6e6"/>
<path d="M0 0L-0 32.61A32.61 32.61 0 0 1 -8.11 31.59Z" fill="#bdf7e8"/>
<path d="M0 0L-0 21.74A21.74 21.74 0 0 1 -5.41 21.06Z" fill="#c4f7ea"/>
<path d="M0 0L-0 10.87A10.87 10.87 0 0 1 -2.7 10.53Z" fill="#d4f9f0"/>
<path d="M0 0L-13.52 52.64A54.35 54.35 0 0 1 -26.18 47.63Z" fill="#b7eef8"/>
<path d="M0 0L-10.81 42.11A43.48 43.48 0 0 1 -20.95 38.1Z" fill="#b8eef8"/>
<path d="M0 0L-8.11 31.59A32.61 32.61 0 0 1 -15.71 28.58Z" fill="#bbeff8"/>
<path d="M0 0L-5.41 21.06A21.74 21.74 0 0 1 -10.47 19.05Z" fill="#c3f1f9"/>
<path d="M0 0L-2.7 10.53A10.87 10.87 0 0 1 -5.24 9.53Z" fill="#d2f4fb"/>
<path d="M0 0L-26.18 47.63A54.35 54.35 0 0 1 -37.21 39.62Z" fill="#b4d7f8"/>
<path d="M0 0L-20.95 38.1A43.48 43.48 0 0 1 -29.76 31.7Z" fill="#b6d8f8"/>
<path d="M0 0L-15.71 28.58A32.61 32.61 0 0 1 -22.32 23.77Z" fill="#b8d9f8"/>
<path d="M0 0L-10.47 19.05A21.74 21.74 0 0 1 -14.88 15.85Z" fill="#c0ddf9"/>
<path d="M0 0L-5.24 9.53A10.87 10.87 0 0 1 -7.44 7.92Z" fill="#d0e6fb"/>
<path d="M0 0L-37.21 39.62A54.35 54.35 0 0 1 -45.89 29.12Z" fill="#b0bef7"/>
<path d="M0 0L-29.76 31.7A43.48 43.48 0 0 1 -36.71 23.3Z" fill="#b2bff7"/>
<path d="M0 0L-22.32 23.77A32.61 32.61 0 0 1 -27.53 17.47Z" fill="#b5c2f7"/>
<path d="M0 0L-14.88 15.85A21.74 21.74 0 0 1 -18.36 11.65Z" fill="#bdc8f8"/>
<path d="M0 0L-7.44 7.92A10.87 10.87 0 0 1 -9.18 5.82Z" fill="#ced7fa"/>
<path d="M0 0L-45.89 29.12A54.35 54.35 0 0 1 -51.69 16.8Z" fill="#bfb6f7"/>
<path d="M0 0L-36.71 23.3A43.48 43.48 0 0 1 -41.35 13.44Z" fill="#c0b7f7"/>
<path d="M0 0L-27.53 17.47A32.61 32.61 0 0 1 -31.01 10.08Z" fill="#c3baf7"/>
<path d="M0 0L-18.36 11.65A21.74 21.74 0 0 1 -20.68 6.72Z" fill="#c9c2f8"/>
<path d="M0 0L-9.18 5.82A10.87 10.87 0 0 1 -10.34 3.36Z" fill="#d7d2fa"/>
<path d="M0 0L-51.69 16.8A54.35 54.35 0 0 1 -54.24 3.41Z" fill="#d0b6f7"/>
<path d="M0 0L-41.35 13.44A43.48 43.48 0 0 1 -43.39 2.73Z" fill="#d1b7f7"/>
<path d="M0 0L-31.01 10.08A32.61 32.61 0 0 1 -32.55 2.05Z" fill="#d3baf7"/>
<path d="M0 0L-20.68 6.72A21.74 21.74 0 0 1 -21.7 1.37Z" fill="#d8c2f8"/>
<path d="M0 0L-10.34 3.36A10.87 10.87 0 0 1 -10.85 0.68Z" fill="#e2d2fa"/>
<path d="M0 0L-54.24 3.41A54.35 54.35 0 0 1 -53.39 -10.18Z" fill="#e1b6f6"/>
<path d="M0 0L-43.39 2.73A43.48 43.48 0 0 1 -42.71 -8.15Z" fill="#e2b7f6"/>
<path d="M0 0L-32.55 2.05A32.61 32.61 0 0 1 -32.03 -6.11Z" fill="#e3baf7"/>
<path d="M0 0L-21.7 1.37A21.74 21.74 0 0 1 -21.35 -4.07Z" fill="#e6c2f7"/>
<path d="M0 0L-10.85 0.68A10.87 10.87 0 0 1 -10.68 -2.04Z" fill="#ecd2f9"/>
<path d="M0 0L-53.39 -10.18A54.35 54.35 0 0 1 -49.18 -23.14Z" fill="#ecb4f2"/>
<path d="M0 0L-42.71 -8.15A43.48 43.48 0 0 1 -39.34 -18.51Z" fill="#ecb6f2"/>
<path d="M0 0L-32.03 -6.11A32.61 32.61 0 0 1 -29.51 -13.88Z" fill="#edb8f3"/>
<path d="M0 0L-21.35 -4.07A21.74 21.74 0 0 1 -19.67 -9.26Z" fill="#efc0f4"/>
<path d="M0 0L-10.68 -2.04A10.87 10.87 0 0 1 -9.84 -4.63Z" fill="#f3d0f7"/>
<path d="M0 0L-49.18 -23.14A54.35 54.35 0 0 1 -41.88 -34.64Z" fill="#f0b2e4"/>
<path d="M0 0L-39.34 -18.51A43.48 43.48 0 0 1 -33.5 -27.72Z" fill="#f0b4e5"/>
<path d="M0 0L-29.51 -13.88A32.61 32.61 0 0 1 -25.13 -20.79Z" fill="#f1b7e6"/>
<path d="M0 0L-19.67 -9.26A21.74 21.74 0 0 1 -16.75 -13.86Z" fill="#f2bee8"/>
<path d="M0 0L-9.84 -4.63A10.87 10.87 0 0 1 -8.38 -6.93Z" fill="#f6cfee"/>
<path d="M0 0L-41.88 -34.64A54.35 54.35 0 0 1 -31.95 -43.97Z" fill="#f3b2d4"/>
<path d="M0 0L-33.5 -27.72A43.48 43.48 0 0 1 -25.56 -35.18Z" fill="#f3b4d5"/>
<path d="M0 0L-25.13 -20.79A32.61 32.61 0 0 1 -19.17 -26.38Z" fill="#f4b7d7"/>
<path d="M0 0L-16.75 -13.86A21.74 21.74 0 0 1 -12.78 -17.59Z" fill="#f5bedb"/>
<path d="M0 0L-8.38 -6.93A10.87 10.87 0 0 1 -6.39 -8.79Z" fill="#f8cfe4"/>
<path d="M0 0L-31.95 -43.97A54.35 54.35 0 0 1 -20.01 -50.53Z" fill="#f5b2c8"/>
<path d="M0 0L-25.56 -35.18A43.48 43.48 0 0 1 -16.01 -40.43Z" fill="#f5b4c9"/>
<path d="M0 0L-19.17 -26.38A32.61 32.61 0 0 1 -12 -30.32Z" fill="#f6b7cb"/>
<path d="M0 0L-12.78 -17.59A21.74 21.74 0 0 1 -8 -20.21Z" fill="#f7bed1"/>
<path d="M0 0L-6.39 -8.79A10.87 10.87 0 0 1 -4 -10.11Z" fill="#f9cfdd"/>
<path d="M0 0L-20.01 -50.53A54.35 54.35 0 0 1 -6.81 -53.92Z" fill="#f6b2c0"/>
<path d="M0 0L-16.01 -40.43A43.48 43.48 0 0 1 -5.45 -43.14Z" fill="#f6b4c1"/>
<path d="M0 0L-12 -30.32A32.61 32.61 0 0 1 -4.09 -32.35Z" fill="#f7b7c4"/>
<path d="M0 0L-8 -20.21A21.74 21.74 0 0 1 -2.72 -21.57Z" fill="#f7beca"/>
<path d="M0 0L-4 -10.11A10.87 10.87 0 0 1 -1.36 -10.78Z" fill="#f9cfd8"/>
<line x1="0" y1="0" x2="6.81" y2="-53.92" stroke="#fff" stroke-width="0.5" stroke-opacity="0.85"/>
<line x1="0" y1="0" x2="20.01" y2="-50.53" stroke="#fff" stroke-width="0.5" stroke-opacity="0.85"/>
<line x1="0" y1="0" x2="31.95" y2="-43.97" stroke="#fff" stroke-width="0.5" stroke-opacity="0.85"/>
<line x1="0" y1="0" x2="41.88" y2="-34.64" stroke="#fff" stroke-width="0.5" stroke-opacity="0.85"/>
<line x1="0" y1="0" x2="49.18" y2="-23.14" stroke="#fff" stroke-width="0.5" stroke-opacity="0.85"/>
<line x1="0" y1="0" x2="53.39" y2="-10.18" stroke="#fff" stroke-width="0.5" stroke-opacity="0.85"/>
<line x1="0" y1="0" x2="54.24" y2="3.41" stroke="#fff" stroke-width="0.5" stroke-opacity="0.85"/>
<line x1="0" y1="0" x2="51.69" y2="16.8" stroke="#fff" stroke-width="0.5" stroke-opacity="0.85"/>
<line x1="0" y1="0" x2="45.89" y2="29.12" stroke="#fff" stroke-width="0.5" stroke-opacity="0.85"/>
<line x1="0" y1="0" x2="37.21" y2="39.62" stroke="#fff" stroke-width="0.5" stroke-opacity="0.85"/>
<line x1="0" y1="0" x2="26.18" y2="47.63" stroke="#fff" stroke-width="0.5" stroke-opacity="0.85"/>
<line x1="0" y1="0" x2="13.52" y2="52.64" stroke="#fff" stroke-width="0.5" stroke-opacity="0.85"/>
<line x1="0" y1="0" x2="0" y2="54.35" stroke="#fff" stroke-width="0.5" stroke-opacity="0.85"/>
<line x1="0" y1="0" x2="-13.52" y2="52.64" stroke="#fff" stroke-width="0.5" stroke-opacity="0.85"/>
<line x1="0" y1="0" x2="-26.18" y2="47.63" stroke="#fff" stroke-width="0.5" stroke-opacity="0.85"/>
<line x1="0" y1="0" x2="-37.21" y2="39.62" stroke="#fff" stroke-width="0.5" stroke-opacity="0.85"/>
<line x1="0" y1="0" x2="-45.89" y2="29.12" stroke="#fff" stroke-width="0.5" stroke-opacity="0.85"/>
<line x1="0" y1="0" x2="-51.69" y2="16.8" stroke="#fff" stroke-width="0.5" stroke-opacity="0.85"/>
<line x1="0" y1="0" x2="-54.24" y2="3.41" stroke="#fff" stroke-width="0.5" stroke-opacity="0.85"/>
<line x1="0" y1="0" x2="-53.39" y2="-10.18" stroke="#fff" stroke-width="0.5" stroke-opacity="0.85"/>
<line x1="0" y1="0" x2="-49.18" y2="-23.14" stroke="#fff" stroke-width="0.5" stroke-opacity="0.85"/>
<line x1="0" y1="0" x2="-41.88" y2="-34.64" stroke="#fff" stroke-width="0.5" stroke-opacity="0.85"/>
<line x1="0" y1="0" x2="-31.95" y2="-43.97" stroke="#fff" stroke-width="0.5" stroke-opacity="0.85"/>
<line x1="0" y1="0" x2="-20.01" y2="-50.53" stroke="#fff" stroke-width="0.5" stroke-opacity="0.85"/>
<line x1="0" y1="0" x2="-6.81" y2="-53.92" stroke="#fff" stroke-width="0.5" stroke-opacity="0.85"/>
<circle r="10.87" fill="none" stroke="#fff" stroke-width="0.5" stroke-opacity="0.6"/>
<circle r="21.74" fill="none" stroke="#fff" stroke-width="0.5" stroke-opacity="0.6"/>
<circle r="32.61" fill="none" stroke="#fff" stroke-width="0.5" stroke-opacity="0.6"/>
<circle r="43.48" fill="none" stroke="#fff" stroke-width="0.5" stroke-opacity="0.6"/>
<circle r="2.2" fill="#fff" fill-opacity="0.75"/>
</g>
<polygon points="97.8,473.65 104.69,460.67 108.48,468.08 110.69,473.77 114.17,477.11 123.09,479.28 126.55,485.69 124.47,492.59 114.34,495.28 117.86,504.1 109.2,503.19 103.71,502.44 98.77,495.19 96.62,496.84 83.52,523.56 81.52,509.91 62.8,516.46 95.29,488.68 96.17,487.81 95.59,487.36 79.89,481.68 95.93,486.31 93.25,482.65 95.13,482.65 93.25,469.79" fill="none" stroke="#111" stroke-width="0.8" stroke-dasharray="0.9 0.9" stroke-linejoin="round"/>
<polygon points="97.8,474.2 101.11,474.62 100.87,481.92 105.01,479.83 105.75,482.45 114.66,482.02 110.52,486.7 114.67,490.72 146.42,510.38 131.1,515.04 110.5,504.98 100.86,495.23 98.49,493 97.24,491.9 89.44,508.62 81.84,509.46 95.67,489.27 96.3,488.21 96.17,487.81 96.14,487.4 96.22,486.99 96.4,486.61 96.66,486.29 97,486.04 94.36,474.09" fill="none" stroke="#161616" stroke-width="1.3" stroke-linejoin="round"/>
</g>
<rect x="83.9" y="485.6" width="9.5" height="4.6" fill="#fff" fill-opacity="0.72"/>
<text class="tick" transform="translate(92.7 489.5) scale(.1 .112)" text-anchor="end">0.00</text>
<rect x="83.9" y="474.48" width="9.5" height="4.6" fill="#fff" fill-opacity="0.72"/>
<text class="tick" transform="translate(92.7 478.38) scale(.1 .112)" text-anchor="end">0.20</text>
<rect x="83.9" y="463.35" width="9.5" height="4.6" fill="#fff" fill-opacity="0.72"/>
<text class="tick" transform="translate(92.7 467.25) scale(.1 .112)" text-anchor="end">0.40</text>
<rect x="83.9" y="452.23" width="9.5" height="4.6" fill="#fff" fill-opacity="0.72"/>
<text class="tick" transform="translate(92.7 456.13) scale(.1 .112)" text-anchor="end">0.60</text>
<rect x="83.9" y="441.1" width="9.5" height="4.6" fill="#fff" fill-opacity="0.72"/>
<text class="tick" transform="translate(92.7 445) scale(.1 .112)" text-anchor="end">0.80</text>
<rect x="83.9" y="429.98" width="9.5" height="4.6" fill="#fff" fill-opacity="0.72"/>
<text class="tick" transform="translate(92.7 433.88) scale(.1 .112)" text-anchor="end">1.00</text>
<text class="cat" transform="translate(98 427.85) scale(.1)" text-anchor="middle">Productivity</text>
<text class="cat" transform="translate(112.57 433.08) scale(.1)">Labour force</text>
<text class="cat" transform="translate(126.14 438.85) scale(.1)">Talent pool</text>
<text class="cat" transform="translate(137.94 446.72) scale(.1)">Industry</text>
<text class="cat" transform="translate(147.24 458.66) scale(.1)">Income</text>
<text class="cat" transform="translate(153.45 471.87) scale(.1)">Health</text>
<text class="cat" transform="translate(156.19 486.2) scale(.1)">Education</text>
<text class="cat" transform="translate(155.27 500.76) scale(.1)">Safety</text>
<text class="cat" transform="translate(150.76 514.63) scale(.1)">Housing</text>
<text class="cat" transform="translate(142.94 526.95) scale(.1)">Progress</text>
<text class="cat" transform="translate(132.31 536.73) scale(.1)">Transit</text>
<text class="cat" transform="translate(119.52 543.66) scale(.1)">Vehicles</text>
<text class="cat" transform="translate(105.39 547.14) scale(.1)">Energy</text>
<text class="cat" transform="translate(90.71 547.19) scale(.1)" text-anchor="end">Buildings</text>
<text class="cat" transform="translate(76.58 544.01) scale(.1)" text-anchor="end">Sanitation</text>
<text class="cat" transform="translate(63.79 536.98) scale(.1)" text-anchor="end">Smart policy</text>
<text class="cat" transform="translate(53.16 527) scale(.1)" text-anchor="end">Sustainable policy</text>
<text class="cat" transform="translate(45.34 514.68) scale(.1)" text-anchor="end">Participation</text>
<text class="cat" transform="translate(40.83 500.81) scale(.1)" text-anchor="end">Research support</text>
<text class="cat" transform="translate(39.91 486.25) scale(.1)" text-anchor="end">University</text>
<text class="cat" transform="translate(42.65 471.92) scale(.1)" text-anchor="end">Internet</text>
<text class="cat" transform="translate(48.86 458.71) scale(.1)" text-anchor="end">Wi-Fi</text>
<text class="cat" transform="translate(58.16 446.77) scale(.1)" text-anchor="end">Innovation</text>
<text class="cat" transform="translate(69.96 438.7) scale(.1)" text-anchor="end">Research capacity</text>
<text class="cat" transform="translate(83.53 433.88) scale(.1)" text-anchor="end">Media</text>
<line x1="43.1" y1="415.2" x2="55.1" y2="415.2" stroke="#161616" stroke-width="1.3"/>
<text class="cat" transform="translate(56.2 417.1) scale(.1)">Amazonas (AM) Manaus</text>
<line x1="119.9" y1="415.2" x2="133.2" y2="415.2" stroke="#111" stroke-width="0.8" stroke-dasharray="0.9 0.9"/>
<text class="cat" transform="translate(133.9 417.1) scale(.1)">Average</text>
</g>
<g><!-- Boa Vista -->
<path d="M227 388.7L229 386.7V388.7Z" fill="#c8323f"/>
<path d="M227 388.5H294L297.6 394.75L294 401H227Z" fill="#ee525b"/>
<text class="ban" transform="translate(233.3 397.5) scale(.1)">Boa Vista</text>
<g filter="url(#soft)">
<g transform="translate(291.5 487.15) scale(1 0.9770)">
<path d="M0 0L-6.81 -53.92A54.35 54.35 0 0 1 6.81 -53.92Z" fill="#f8b5ba"/>
<path d="M0 0L-5.45 -43.14A43.48 43.48 0 0 1 5.45 -43.14Z" fill="#f8b6bb"/>
<path d="M0 0L-4.09 -32.35A32.61 32.61 0 0 1 4.09 -32.35Z" fill="#f8b9be"/>
<path d="M0 0L-2.72 -21.57A21.74 21.74 0 0 1 2.72 -21.57Z" fill="#f9c1c5"/>
<path d="M0 0L-1.36 -10.78A10.87 10.87 0 0 1 1.36 -10.78Z" fill="#fbd1d4"/>
<path d="M0 0L6.81 -53.92A54.35 54.35 0 0 1 20.01 -50.53Z" fill="#f9bab9"/>
<path d="M0 0L5.45 -43.14A43.48 43.48 0 0 1 16.01 -40.43Z" fill="#f9bbba"/>
<path d="M0 0L4.09 -32.35A32.61 32.61 0 0 1 12 -30.32Z" fill="#f9bebd"/>
<path d="M0 0L2.72 -21.57A21.74 21.74 0 0 1 8 -20.21Z" fill="#fac5c4"/>
<path d="M0 0L1.36 -10.78A10.87 10.87 0 0 1 4 -10.11Z" fill="#fbd4d4"/>
<path d="M0 0L20.01 -50.53A54.35 54.35 0 0 1 31.95 -43.97Z" fill="#f9bfb7"/>
<path d="M0 0L16.01 -40.43A43.48 43.48 0 0 1 25.56 -35.18Z" fill="#f9c0b8"/>
<path d="M0 0L12 -30.32A32.61 32.61 0 0 1 19.17 -26.38Z" fill="#f9c3bb"/>
<path d="M0 0L8 -20.21A21.74 21.74 0 0 1 12.78 -17.59Z" fill="#fac9c3"/>
<path d="M0 0L4 -10.11A10.87 10.87 0 0 1 6.39 -8.79Z" fill="#fbd7d2"/>
<path d="M0 0L31.95 -43.97A54.35 54.35 0 0 1 41.88 -34.64Z" fill="#f9c6b5"/>
<path d="M0 0L25.56 -35.18A43.48 43.48 0 0 1 33.5 -27.72Z" fill="#f9c7b6"/>
<path d="M0 0L19.17 -26.38A32.61 32.61 0 0 1 25.13 -20.79Z" fill="#f9c9b9"/>
<path d="M0 0L12.78 -17.59A21.74 21.74 0 0 1 16.75 -13.86Z" fill="#facfc1"/>
<path d="M0 0L6.39 -8.79A10.87 10.87 0 0 1 8.38 -6.93Z" fill="#fbdcd1"/>
<path d="M0 0L41.88 -34.64A54.35 54.35 0 0 1 49.18 -23.14Z" fill="#f9d0b4"/>
<path d="M0 0L33.5 -27.72A43.48 43.48 0 0 1 39.34 -18.51Z" fill="#f9d1b6"/>
<path d="M0 0L25.13 -20.79A32.61 32.61 0 0 1 29.51 -13.88Z" fill="#f9d3b8"/>
<path d="M0 0L16.75 -13.86A21.74 21.74 0 0 1 19.67 -9.26Z" fill="#fad8c0"/>
<path d="M0 0L8.38 -6.93A10.87 10.87 0 0 1 9.84 -4.63Z" fill="#fbe2d0"/>
<path d="M0 0L49.18 -23.14A54.35 54.35 0 0 1 53.39 -10.18Z" fill="#fae0b4"/>
<path d="M0 0L39.34 -18.51A43.48 43.48 0 0 1 42.71 -8.15Z" fill="#fae1b6"/>
<path d="M0 0L29.51 -13.88A32.61 32.61 0 0 1 32.03 -6.11Z" fill="#fae2b8"/>
<path d="M0 0L19.67 -9.26A21.74 21.74 0 0 1 21.35 -4.07Z" fill="#fbe5c0"/>
<path d="M0 0L9.84 -4.63A10.87 10.87 0 0 1 10.68 -2.04Z" fill="#fcecd0"/>
<path d="M0 0L53.39 -10.18A54.35 54.35 0 0 1 54.24 3.41Z" fill="#faeeb4"/>
<path d="M0 0L42.71 -8.15A43.48 43.48 0 0 1 43.39 2.73Z" fill="#faeeb6"/>
<path d="M0 0L32.03 -6.11A32.61 32.61 0 0 1 32.55 2.05Z" fill="#faefb8"/>
<path d="M0 0L21.35 -4.07A21.74 21.74 0 0 1 21.7 1.37Z" fill="#fbf1c0"/>
<path d="M0 0L10.68 -2.04A10.87 10.87 0 0 1 10.85 0.68Z" fill="#fcf4d0"/>
<path d="M0 0L54.24 3.41A54.35 54.35 0 0 1 51.69 16.8Z" fill="#f7f8b6"/>
<path d="M0 0L43.39 2.73A43.48 43.48 0 0 1 41.35 13.44Z" fill="#f7f8b7"/>
<path d="M0 0L32.55 2.05A32.61 32.61 0 0 1 31.01 10.08Z" fill="#f7f8ba"/>
<path d="M0 0L21.7 1.37A21.74 21.74 0 0 1 20.68 6.72Z" fill="#f8f9c2"/>
<path d="M0 0L10.85 0.68A10.87 10.87 0 0 1 10.34 3.36Z" fill="#fafbd2"/>
<path d="M0 0L51.69 16.8A54.35 54.35 0 0 1 45.89 29.12Z" fill="#ecf8b8"/>
<path d="M0 0L41.35 13.44A43.48 43.48 0 0 1 36.71 23.3Z" fill="#ecf8b9"/>
<path d="M0 0L31.01 10.08A32.61 32.61 0 0 1 27.53 17.47Z" fill="#edf8bc"/>
<path d="M0 0L20.68 6.72A21.74 21.74 0 0 1 18.36 11.65Z" fill="#eff9c3"/>
<path d="M0 0L10.34 3.36A10.87 10.87 0 0 1 9.18 5.82Z" fill="#f3fbd3"/>
<path d="M0 0L45.89 29.12A54.35 54.35 0 0 1 37.21 39.62Z" fill="#def7ba"/>
<path d="M0 0L36.71 23.3A43.48 43.48 0 0 1 29.76 31.7Z" fill="#dff7bb"/>
<path d="M0 0L27.53 17.47A32.61 32.61 0 0 1 22.32 23.77Z" fill="#e0f7be"/>
<path d="M0 0L18.36 11.65A21.74 21.74 0 0 1 14.88 15.85Z" fill="#e3f8c5"/>
<path d="M0 0L9.18 5.82A10.87 10.87 0 0 1 7.44 7.92Z" fill="#ebfad4"/>
<path d="M0 0L37.21 39.62A54.35 54.35 0 0 1 26.18 47.63Z" fill="#d0f6be"/>
<path d="M0 0L29.76 31.7A43.48 43.48 0 0 1 20.95 38.1Z" fill="#d1f6bf"/>
<path d="M0 0L22.32 23.77A32.61 32.61 0 0 1 15.71 28.58Z" fill="#d3f7c2"/>
<path d="M0 0L14.88 15.85A21.74 21.74 0 0 1 10.47 19.05Z" fill="#d8f7c8"/>
<path d="M0 0L7.44 7.92A10.87 10.87 0 0 1 5.24 9.53Z" fill="#e2f9d7"/>
<path d="M0 0L26.18 47.63A54.35 54.35 0 0 1 13.52 52.64Z" fill="#c3f6c4"/>
<path d="M0 0L20.95 38.1A43.48 43.48 0 0 1 10.81 42.11Z" fill="#c4f6c5"/>
<path d="M0 0L15.71 28.58A32.61 32.61 0 0 1 8.11 31.59Z" fill="#c7f7c8"/>
<path d="M0 0L10.47 19.05A21.74 21.74 0 0 1 5.41 21.06Z" fill="#cdf7cd"/>
<path d="M0 0L5.24 9.53A10.87 10.87 0 0 1 2.7 10.53Z" fill="#daf9da"/>
<path d="M0 0L13.52 52.64A54.35 54.35 0 0 1 0 54.35Z" fill="#bcf6d2"/>
<path d="M0 0L10.81 42.11A43.48 43.48 0 0 1 0 43.48Z" fill="#bdf6d3"/>
<path d="M0 0L8.11 31.59A32.61 32.61 0 0 1 0 32.61Z" fill="#c0f7d5"/>
<path d="M0 0L5.41 21.06A21.74 21.74 0 0 1 0 21.74Z" fill="#c7f7d9"/>
<path d="M0 0L2.7 10.53A10.87 10.87 0 0 1 0 10.87Z" fill="#d5f9e3"/>
<path d="M0 0L-0 54.35A54.35 54.35 0 0 1 -13.52 52.64Z" fill="#b9f6e6"/>
<path d="M0 0L-0 43.48A43.48 43.48 0 0 1 -10.81 42.11Z" fill="#baf6e6"/>
<path d="M0 0L-0 32.61A32.61 32.61 0 0 1 -8.11 31.59Z" fill="#bdf7e8"/>
<path d="M0 0L-0 21.74A21.74 21.74 0 0 1 -5.41 21.06Z" fill="#c4f7ea"/>
<path d="M0 0L-0 10.87A10.87 10.87 0 0 1 -2.7 10.53Z" fill="#d4f9f0"/>
<path d="M0 0L-13.52 52.64A54.35 54.35 0 0 1 -26.18 47.63Z" fill="#b7eef8"/>
<path d="M0 0L-10.81 42.11A43.48 43.48 0 0 1 -20.95 38.1Z" fill="#b8eef8"/>
<path d="M0 0L-8.11 31.59A32.61 32.61 0 0 1 -15.71 28.58Z" fill="#bbeff8"/>
<path d="M0 0L-5.41 21.06A21.74 21.74 0 0 1 -10.47 19.05Z" fill="#c3f1f9"/>
<path d="M0 0L-2.7 10.53A10.87 10.87 0 0 1 -5.24 9.53Z" fill="#d2f4fb"/>
<path d="M0 0L-26.18 47.63A54.35 54.35 0 0 1 -37.21 39.62Z" fill="#b4d7f8"/>
<path d="M0 0L-20.95 38.1A43.48 43.48 0 0 1 -29.76 31.7Z" fill="#b6d8f8"/>
<path d="M0 0L-15.71 28.58A32.61 32.61 0 0 1 -22.32 23.77Z" fill="#b8d9f8"/>
<path d="M0 0L-10.47 19.05A21.74 21.74 0 0 1 -14.88 15.85Z" fill="#c0ddf9"/>
<path d="M0 0L-5.24 9.53A10.87 10.87 0 0 1 -7.44 7.92Z" fill="#d0e6fb"/>
<path d="M0 0L-37.21 39.62A54.35 54.35 0 0 1 -45.89 29.12Z" fill="#b0bef7"/>
<path d="M0 0L-29.76 31.7A43.48 43.48 0 0 1 -36.71 23.3Z" fill="#b2bff7"/>
<path d="M0 0L-22.32 23.77A32.61 32.61 0 0 1 -27.53 17.47Z" fill="#b5c2f7"/>
<path d="M0 0L-14.88 15.85A21.74 21.74 0 0 1 -18.36 11.65Z" fill="#bdc8f8"/>
<path d="M0 0L-7.44 7.92A10.87 10.87 0 0 1 -9.18 5.82Z" fill="#ced7fa"/>
<path d="M0 0L-45.89 29.12A54.35 54.35 0 0 1 -51.69 16.8Z" fill="#bfb6f7"/>
<path d="M0 0L-36.71 23.3A43.48 43.48 0 0 1 -41.35 13.44Z" fill="#c0b7f7"/>
<path d="M0 0L-27.53 17.47A32.61 32.61 0 0 1 -31.01 10.08Z" fill="#c3baf7"/>
<path d="M0 0L-18.36 11.65A21.74 21.74 0 0 1 -20.68 6.72Z" fill="#c9c2f8"/>
<path d="M0 0L-9.18 5.82A10.87 10.87 0 0 1 -10.34 3.36Z" fill="#d7d2fa"/>
<path d="M0 0L-51.69 16.8A54.35 54.35 0 0 1 -54.24 3.41Z" fill="#d0b6f7"/>
<path d="M0 0L-41.35 13.44A43.48 43.48 0 0 1 -43.39 2.73Z" fill="#d1b7f7"/>
<path d="M0 0L-31.01 10.08A32.61 32.61 0 0 1 -32.55 2.05Z" fill="#d3baf7"/>
<path d="M0 0L-20.68 6.72A21.74 21.74 0 0 1 -21.7 1.37Z" fill="#d8c2f8"/>
<path d="M0 0L-10.34 3.36A10.87 10.87 0 0 1 -10.85 0.68Z" fill="#e2d2fa"/>
<path d="M0 0L-54.24 3.41A54.35 54.35 0 0 1 -53.39 -10.18Z" fill="#e1b6f6"/>
<path d="M0 0L-43.39 2.73A43.48 43.48 0 0 1 -42.71 -8.15Z" fill="#e2b7f6"/>
<path d="M0 0L-32.55 2.05A32.61 32.61 0 0 1 -32.03 -6.11Z" fill="#e3baf7"/>
<path d="M0 0L-21.7 1.37A21.74 21.74 0 0 1 -21.35 -4.07Z" fill="#e6c2f7"/>
<path d="M0 0L-10.85 0.68A10.87 10.87 0 0 1 -10.68 -2.04Z" fill="#ecd2f9"/>
<path d="M0 0L-53.39 -10.18A54.35 54.35 0 0 1 -49.18 -23.14Z" fill="#ecb4f2"/>
<path d="M0 0L-42.71 -8.15A43.48 43.48 0 0 1 -39.34 -18.51Z" fill="#ecb6f2"/>
<path d="M0 0L-32.03 -6.11A32.61 32.61 0 0 1 -29.51 -13.88Z" fill="#edb8f3"/>
<path d="M0 0L-21.35 -4.07A21.74 21.74 0 0 1 -19.67 -9.26Z" fill="#efc0f4"/>
<path d="M0 0L-10.68 -2.04A10.87 10.87 0 0 1 -9.84 -4.63Z" fill="#f3d0f7"/>
<path d="M0 0L-49.18 -23.14A54.35 54.35 0 0 1 -41.88 -34.64Z" fill="#f0b2e4"/>
<path d="M0 0L-39.34 -18.51A43.48 43.48 0 0 1 -33.5 -27.72Z" fill="#f0b4e5"/>
<path d="M0 0L-29.51 -13.88A32.61 32.61 0 0 1 -25.13 -20.79Z" fill="#f1b7e6"/>
<path d="M0 0L-19.67 -9.26A21.74 21.74 0 0 1 -16.75 -13.86Z" fill="#f2bee8"/>
<path d="M0 0L-9.84 -4.63A10.87 10.87 0 0 1 -8.38 -6.93Z" fill="#f6cfee"/>
<path d="M0 0L-41.88 -34.64A54.35 54.35 0 0 1 -31.95 -43.97Z" fill="#f3b2d4"/>
<path d="M0 0L-33.5 -27.72A43.48 43.48 0 0 1 -25.56 -35.18Z" fill="#f3b4d5"/>
<path d="M0 0L-25.13 -20.79A32.61 32.61 0 0 1 -19.17 -26.38Z" fill="#f4b7d7"/>
<path d="M0 0L-16.75 -13.86A21.74 21.74 0 0 1 -12.78 -17.59Z" fill="#f5bedb"/>
<path d="M0 0L-8.38 -6.93A10.87 10.87 0 0 1 -6.39 -8.79Z" fill="#f8cfe4"/>
<path d="M0 0L-31.95 -43.97A54.35 54.35 0 0 1 -20.01 -50.53Z" fill="#f5b2c8"/>
<path d="M0 0L-25.56 -35.18A43.48 43.48 0 0 1 -16.01 -40.43Z" fill="#f5b4c9"/>
<path d="M0 0L-19.17 -26.38A32.61 32.61 0 0 1 -12 -30.32Z" fill="#f6b7cb"/>
<path d="M0 0L-12.78 -17.59A21.74 21.74 0 0 1 -8 -20.21Z" fill="#f7bed1"/>
<path d="M0 0L-6.39 -8.79A10.87 10.87 0 0 1 -4 -10.11Z" fill="#f9cfdd"/>
<path d="M0 0L-20.01 -50.53A54.35 54.35 0 0 1 -6.81 -53.92Z" fill="#f6b2c0"/>
<path d="M0 0L-16.01 -40.43A43.48 43.48 0 0 1 -5.45 -43.14Z" fill="#f6b4c1"/>
<path d="M0 0L-12 -30.32A32.61 32.61 0 0 1 -4.09 -32.35Z" fill="#f7b7c4"/>
<path d="M0 0L-8 -20.21A21.74 21.74 0 0 1 -2.72 -21.57Z" fill="#f7beca"/>
<path d="M0 0L-4 -10.11A10.87 10.87 0 0 1 -1.36 -10.78Z" fill="#f9cfd8"/>
<line x1="0" y1="0" x2="6.81" y2="-53.92" stroke="#fff" stroke-width="0.5" stroke-opacity="0.85"/>
<line x1="0" y1="0" x2="20.01" y2="-50.53" stroke="#fff" stroke-width="0.5" stroke-opacity="0.85"/>
<line x1="0" y1="0" x2="31.95" y2="-43.97" stroke="#fff" stroke-width="0.5" stroke-opacity="0.85"/>
<line x1="0" y1="0" x2="41.88" y2="-34.64" stroke="#fff" stroke-width="0.5" stroke-opacity="0.85"/>
<line x1="0" y1="0" x2="49.18" y2="-23.14" stroke="#fff" stroke-width="0.5" stroke-opacity="0.85"/>
<line x1="0" y1="0" x2="53.39" y2="-10.18" stroke="#fff" stroke-width="0.5" stroke-opacity="0.85"/>
<line x1="0" y1="0" x2="54.24" y2="3.41" stroke="#fff" stroke-width="0.5" stroke-opacity="0.85"/>
<line x1="0" y1="0" x2="51.69" y2="16.8" stroke="#fff" stroke-width="0.5" stroke-opacity="0.85"/>
<line x1="0" y1="0" x2="45.89" y2="29.12" stroke="#fff" stroke-width="0.5" stroke-opacity="0.85"/>
<line x1="0" y1="0" x2="37.21" y2="39.62" stroke="#fff" stroke-width="0.5" stroke-opacity="0.85"/>
<line x1="0" y1="0" x2="26.18" y2="47.63" stroke="#fff" stroke-width="0.5" stroke-opacity="0.85"/>
<line x1="0" y1="0" x2="13.52" y2="52.64" stroke="#fff" stroke-width="0.5" stroke-opacity="0.85"/>
<line x1="0" y1="0" x2="0" y2="54.35" stroke="#fff" stroke-width="0.5" stroke-opacity="0.85"/>
<line x1="0" y1="0" x2="-13.52" y2="52.64" stroke="#fff" stroke-width="0.5" stroke-opacity="0.85"/>
<line x1="0" y1="0" x2="-26.18" y2="47.63" stroke="#fff" stroke-width="0.5" stroke-opacity="0.85"/>
<line x1="0" y1="0" x2="-37.21" y2="39.62" stroke="#fff" stroke-width="0.5" stroke-opacity="0.85"/>
<line x1="0" y1="0" x2="-45.89" y2="29.12" stroke="#fff" stroke-width="0.5" stroke-opacity="0.85"/>
<line x1="0" y1="0" x2="-51.69" y2="16.8" stroke="#fff" stroke-width="0.5" stroke-opacity="0.85"/>
<line x1="0" y1="0" x2="-54.24" y2="3.41" stroke="#fff" stroke-width="0.5" stroke-opacity="0.85"/>
<line x1="0" y1="0" x2="-53.39" y2="-10.18" stroke="#fff" stroke-width="0.5" stroke-opacity="0.85"/>
<line x1="0" y1="0" x2="-49.18" y2="-23.14" stroke="#fff" stroke-width="0.5" stroke-opacity="0.85"/>
<line x1="0" y1="0" x2="-41.88" y2="-34.64" stroke="#fff" stroke-width="0.5" stroke-opacity="0.85"/>
<line x1="0" y1="0" x2="-31.95" y2="-43.97" stroke="#fff" stroke-width="0.5" stroke-opacity="0.85"/>
<line x1="0" y1="0" x2="-20.01" y2="-50.53" stroke="#fff" stroke-width="0.5" stroke-opacity="0.85"/>
<line x1="0" y1="0" x2="-6.81" y2="-53.92" stroke="#fff" stroke-width="0.5" stroke-opacity="0.85"/>
<circle r="10.87" fill="none" stroke="#fff" stroke-width="0.5" stroke-opacity="0.6"/>
<circle r="21.74" fill="none" stroke="#fff" stroke-width="0.5" stroke-opacity="0.6"/>
<circle r="32.61" fill="none" stroke="#fff" stroke-width="0.5" stroke-opacity="0.6"/>
<circle r="43.48" fill="none" stroke="#fff" stroke-width="0.5" stroke-opacity="0.6"/>
<circle r="2.2" fill="#fff" fill-opacity="0.75"/>
</g>
<polygon points="291.35,472.95 298.24,459.97 302.03,467.38 304.24,473.07 307.72,476.41 316.64,478.58 320.1,484.99 318.02,491.89 307.89,494.58 311.41,503.4 302.75,502.49 297.26,501.74 292.32,494.49 290.17,496.14 277.07,522.86 275.07,509.21 256.35,515.76 288.84,487.98 289.72,487.11 289.14,486.66 273.44,480.98 289.48,485.61 286.8,481.95 288.68,481.95 286.8,469.09" fill="none" stroke="#111" stroke-width="0.8" stroke-dasharray="0.9 0.9" stroke-linejoin="round"/>
<polygon points="291.35,485.14 291.76,485.19 304.96,462.04 292.49,485.59 305.85,477.6 292.93,486.29 336.14,483.98 317.74,491.83 295.86,488.92 316.75,507.81 292.33,488.14 291.96,488.35 292.25,493.95 291.14,488.45 277.69,521.31 290.37,488.14 248.66,522.11 289.85,487.51 289.72,487.11 289.69,486.7 289.77,486.29 289.95,485.91 290.21,485.59 290.55,485.34 290.94,485.19" fill="none" stroke="#161616" stroke-width="1.3" stroke-linejoin="round"/>
</g>
<rect x="277.45" y="484.9" width="9.5" height="4.6" fill="#fff" fill-opacity="0.72"/>
<text class="tick" transform="translate(286.25 488.8) scale(.1 .112)" text-anchor="end">0.00</text>
<rect x="277.45" y="473.78" width="9.5" height="4.6" fill="#fff" fill-opacity="0.72"/>
<text class="tick" transform="translate(286.25 477.68) scale(.1 .112)" text-anchor="end">0.20</text>
<rect x="277.45" y="462.65" width="9.5" height="4.6" fill="#fff" fill-opacity="0.72"/>
<text class="tick" transform="translate(286.25 466.55) scale(.1 .112)" text-anchor="end">0.40</text>
<rect x="277.45" y="451.53" width="9.5" height="4.6" fill="#fff" fill-opacity="0.72"/>
<text class="tick" transform="translate(286.25 455.43) scale(.1 .112)" text-anchor="end">0.60</text>
<rect x="277.45" y="440.4" width="9.5" height="4.6" fill="#fff" fill-opacity="0.72"/>
<text class="tick" transform="translate(286.25 444.3) scale(.1 .112)" text-anchor="end">0.80</text>
<rect x="277.45" y="429.28" width="9.5" height="4.6" fill="#fff" fill-opacity="0.72"/>
<text class="tick" transform="translate(286.25 433.18) scale(.1 .112)" text-anchor="end">1.00</text>
<text class="cat" transform="translate(291.55 427.15) scale(.1)" text-anchor="middle">Productivity</text>
<text class="cat" transform="translate(306.12 432.38) scale(.1)">Labour force</text>
<text class="cat" transform="translate(319.69 438.15) scale(.1)">Talent pool</text>
<text class="cat" transform="translate(331.49 446.02) scale(.1)">Industry</text>
<text class="cat" transform="translate(340.79 457.96) scale(.1)">Income</text>
<text class="cat" transform="translate(347 471.17) scale(.1)">Health</text>
<text class="cat" transform="translate(349.74 485.5) scale(.1)">Education</text>
<text class="cat" transform="translate(348.82 500.06) scale(.1)">Safety</text>
<text class="cat" transform="translate(344.31 513.93) scale(.1)">Housing</text>
<text class="cat" transform="translate(336.49 526.25) scale(.1)">Progress</text>
<text class="cat" transform="translate(325.86 536.03) scale(.1)">Transit</text>
<text class="cat" transform="translate(313.07 542.96) scale(.1)">Vehicles</text>
<text class="cat" transform="translate(298.94 546.44) scale(.1)">Energy</text>
<text class="cat" transform="translate(284.26 546.49) scale(.1)" text-anchor="end">Buildings</text>
<text class="cat" transform="translate(270.13 543.31) scale(.1)" text-anchor="end">Sanitation</text>
<text class="cat" transform="translate(257.34 536.28) scale(.1)" text-anchor="end">Smart policy</text>
<text class="cat" transform="translate(246.71 526.3) scale(.1)" text-anchor="end">Sustainable policy</text>
<text class="cat" transform="translate(238.89 513.98) scale(.1)" text-anchor="end">Participation</text>
<text class="cat" transform="translate(234.38 500.11) scale(.1)" text-anchor="end">Research support</text>
<text class="cat" transform="translate(233.46 485.55) scale(.1)" text-anchor="end">University</text>
<text class="cat" transform="translate(236.2 471.22) scale(.1)" text-anchor="end">Internet</text>
<text class="cat" transform="translate(242.41 458.01) scale(.1)" text-anchor="end">Wi-Fi</text>
<text class="cat" transform="translate(251.71 446.07) scale(.1)" text-anchor="end">Innovation</text>
<text class="cat" transform="translate(263.51 438) scale(.1)" text-anchor="end">Research capacity</text>
<text class="cat" transform="translate(277.08 433.18) scale(.1)" text-anchor="end">Media</text>
<line x1="238.9" y1="415.2" x2="250.9" y2="415.2" stroke="#161616" stroke-width="1.3"/>
<text class="cat" transform="translate(252 417.1) scale(.1)">Roraima (RR) Boa Vista</text>
<line x1="311.9" y1="415.2" x2="325.2" y2="415.2" stroke="#111" stroke-width="0.8" stroke-dasharray="0.9 0.9"/>
<text class="cat" transform="translate(325.9 417.1) scale(.1)">Average</text>
</g>
</svg></body></html>
